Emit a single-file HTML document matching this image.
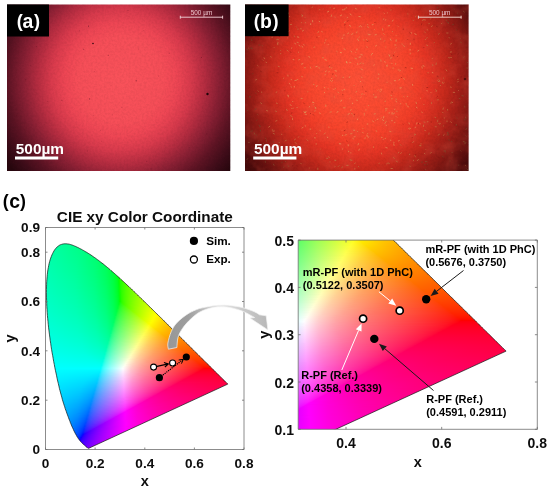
<!DOCTYPE html><html><head><meta charset="utf-8"><title>CIE xy Color Coordinate</title><style>html,body{margin:0;padding:0;background:#fff}#p{position:relative;width:550px;height:489px;overflow:hidden;background:#fff}.cf{position:absolute;overflow:hidden}.cf i{display:block;height:1px}#ov{position:absolute;left:0;top:0}#cr{position:absolute;left:0;top:0;width:550px;height:489px;clip-path:polygon(298.2px 240.1px,537.3px 240.1px,537.3px 429.3px,298.2px 429.3px)}</style></head><body><div id="p"><div class="cf" style="left:45px;top:242px;width:184px;height:208px;clip-path:polygon(43.7px 206.3px,43.4px 206.3px,43.1px 206.3px,42.8px 206.1px,42.6px 206px,42.4px 205.8px,42.2px 205.6px,42px 205.4px,41.7px 205.2px,41.5px 205px,41.3px 204.9px,41.1px 204.7px,40.9px 204.5px,40.6px 204.2px,40.5px 204.1px,40.3px 203.9px,40px 203.7px,39.8px 203.5px,39.6px 203.3px,39.3px 203.1px,39.1px 202.9px,38.8px 202.7px,38.5px 202.4px,38.2px 202.1px,37.9px 201.9px,37.6px 201.6px,37.3px 201.2px,36.9px 200.9px,36.7px 200.7px,36.6px 200.5px,36.4px 200.3px,36.2px 200.1px,36px 199.9px,35.8px 199.7px,35.6px 199.5px,35.4px 199.3px,35.2px 199px,35px 198.8px,34.8px 198.5px,34.5px 198.2px,34.3px 197.9px,34.1px 197.6px,33.8px 197.2px,33.5px 196.8px,33.3px 196.5px,33px 196px,32.7px 195.6px,32.4px 195.1px,32.1px 194.7px,31.8px 194.2px,31.5px 193.6px,31.2px 193.1px,30.9px 192.5px,30.5px 191.9px,30.2px 191.2px,29.8px 190.6px,29.5px 189.9px,29.1px 189.1px,28.7px 188.4px,28.4px 187.5px,28px 186.7px,27.6px 185.8px,27.2px 184.9px,26.7px 183.9px,26.3px 182.9px,25.9px 181.8px,25.4px 180.7px,25px 179.5px,24.5px 178.3px,24px 177px,23.5px 175.7px,23px 174.3px,22.5px 172.9px,21.9px 171.4px,21.4px 169.8px,20.8px 168.2px,20.2px 166.6px,19.7px 164.8px,19.1px 163.1px,18.5px 161.2px,17.9px 159.3px,17.3px 157.3px,16.8px 155.2px,16.2px 153.1px,15.6px 150.9px,15px 148.7px,14.4px 146.4px,13.9px 144px,13.3px 141.5px,12.7px 139px,12.1px 136.4px,11.6px 133.8px,11px 131px,10.4px 128.3px,9.8px 125.4px,9.3px 122.6px,8.7px 119.6px,8.2px 116.7px,7.7px 113.7px,7.1px 110.7px,6.6px 107.6px,6.1px 104.5px,5.7px 101.4px,5.2px 98.3px,4.8px 95.2px,4.4px 92.1px,4px 88.9px,3.6px 85.8px,3.3px 82.7px,3px 79.6px,2.7px 76.5px,2.4px 73.5px,2.2px 70.5px,2px 67.5px,1.8px 64.5px,1.7px 61.6px,1.6px 58.7px,1.5px 55.8px,1.4px 53px,1.4px 50.3px,1.4px 47.5px,1.5px 44.9px,1.6px 42.3px,1.7px 39.7px,1.9px 37.2px,2.1px 34.8px,2.3px 32.4px,2.6px 30.1px,2.9px 27.8px,3.3px 25.7px,3.7px 23.6px,4.1px 21.6px,4.6px 19.7px,5.1px 17.9px,5.7px 16.1px,6.3px 14.5px,6.9px 13px,7.6px 11.5px,8.3px 10.2px,9px 8.9px,9.7px 7.8px,10.5px 6.8px,11.3px 5.8px,12.1px 5px,13px 4.3px,13.8px 3.7px,14.7px 3.1px,15.6px 2.7px,16.5px 2.4px,17.5px 2.1px,18.4px 1.9px,19.4px 1.8px,20.3px 1.8px,21.3px 1.8px,22.3px 1.9px,23.3px 2px,24.3px 2.2px,25.3px 2.5px,26.3px 2.8px,27.3px 3.1px,28.3px 3.5px,29.3px 3.9px,30.3px 4.3px,31.4px 4.8px,32.4px 5.3px,33.4px 5.7px,34.4px 6.3px,35.4px 6.8px,36.4px 7.3px,37.4px 7.9px,38.4px 8.4px,39.4px 9px,40.3px 9.6px,41.3px 10.1px,42.3px 10.7px,43.2px 11.3px,44.2px 11.9px,45.1px 12.5px,46.1px 13.1px,47px 13.8px,47.9px 14.4px,48.8px 15px,49.8px 15.7px,50.7px 16.3px,51.6px 17px,52.5px 17.7px,53.4px 18.3px,54.3px 19px,55.2px 19.7px,56.1px 20.4px,57px 21.1px,58px 21.8px,58.9px 22.5px,59.8px 23.3px,60.7px 24px,61.6px 24.7px,62.5px 25.5px,63.4px 26.2px,64.3px 27px,65.2px 27.7px,66px 28.5px,66.9px 29.3px,67.8px 30px,68.7px 30.8px,69.6px 31.6px,70.5px 32.4px,71.4px 33.2px,72.3px 34px,73.2px 34.8px,74.1px 35.6px,75px 36.4px,75.8px 37.2px,76.7px 38px,77.6px 38.8px,78.5px 39.6px,79.4px 40.5px,80.3px 41.3px,81.2px 42.1px,82px 43px,82.9px 43.8px,83.8px 44.6px,84.7px 45.5px,85.6px 46.3px,86.5px 47.1px,87.4px 48px,88.3px 48.8px,89.2px 49.7px,90.1px 50.5px,90.9px 51.4px,91.8px 52.3px,92.7px 53.1px,93.6px 54px,94.5px 54.8px,95.4px 55.7px,96.3px 56.6px,97.2px 57.4px,98px 58.3px,98.9px 59.1px,99.8px 60px,100.7px 60.9px,101.6px 61.7px,102.5px 62.6px,103.3px 63.5px,104.2px 64.3px,105.1px 65.2px,106px 66.1px,106.9px 66.9px,107.7px 67.8px,108.6px 68.6px,109.5px 69.5px,110.4px 70.4px,111.2px 71.2px,112.1px 72.1px,113px 72.9px,113.9px 73.8px,114.7px 74.6px,115.6px 75.5px,116.4px 76.3px,117.3px 77.2px,118.2px 78px,119px 78.9px,119.9px 79.7px,120.7px 80.6px,121.5px 81.4px,122.4px 82.2px,123.2px 83.1px,124.1px 83.9px,124.9px 84.7px,125.7px 85.6px,126.6px 86.4px,127.4px 87.2px,128.2px 88px,129px 88.8px,129.8px 89.6px,130.7px 90.4px,131.5px 91.2px,132.3px 92px,133.1px 92.8px,133.9px 93.6px,134.6px 94.4px,135.4px 95.2px,136.2px 95.9px,137px 96.7px,137.8px 97.5px,138.5px 98.2px,139.3px 99px,140px 99.7px,140.8px 100.5px,141.5px 101.2px,142.3px 101.9px,143px 102.6px,143.7px 103.4px,144.4px 104.1px,145.2px 104.8px,145.9px 105.5px,146.6px 106.2px,147.2px 106.9px,147.9px 107.5px,148.6px 108.2px,149.3px 108.9px,149.9px 109.5px,150.6px 110.2px,151.2px 110.8px,151.8px 111.4px,152.4px 112px,153px 112.6px,153.6px 113.2px,154.2px 113.8px,154.8px 114.3px,155.4px 114.9px,155.9px 115.5px,156.5px 116px,157px 116.6px,157.6px 117.1px,158.1px 117.7px,158.7px 118.2px,159.2px 118.7px,159.7px 119.2px,160.2px 119.7px,160.7px 120.2px,161.2px 120.7px,161.7px 121.2px,162.2px 121.6px,162.6px 122.1px,163.1px 122.5px,163.5px 123px,164px 123.4px,164.4px 123.8px,164.8px 124.2px,165.2px 124.6px,165.6px 125px,166px 125.4px,166.4px 125.8px,166.8px 126.2px,167.1px 126.5px,167.5px 126.9px,167.8px 127.2px,168.2px 127.6px,168.5px 127.9px,168.9px 128.2px,169.2px 128.6px,169.5px 128.9px,169.8px 129.2px,170.1px 129.5px,170.4px 129.8px,170.7px 130.1px,171px 130.4px,171.2px 130.6px,171.5px 130.9px,171.8px 131.1px,172px 131.4px,172.3px 131.7px,172.5px 131.9px,172.8px 132.1px,173px 132.4px,173.2px 132.6px,173.5px 132.8px,173.7px 133px,173.9px 133.2px,174.1px 133.4px,174.3px 133.6px,174.5px 133.8px,174.7px 134px,174.9px 134.2px,175.1px 134.4px,175.3px 134.6px,175.4px 134.8px,175.6px 134.9px,176px 135.3px,176.3px 135.6px,176.6px 135.9px,176.9px 136.2px,177.2px 136.5px,177.5px 136.8px,177.8px 137.1px,178px 137.4px,178.3px 137.6px,178.5px 137.9px,178.8px 138.1px,179px 138.3px,179.2px 138.5px,179.4px 138.7px,179.6px 138.9px,179.8px 139.1px,180.1px 139.3px,180.3px 139.6px,180.5px 139.8px,180.7px 140px,180.9px 140.2px,181.1px 140.4px,181.3px 140.6px,181.5px 140.8px,181.7px 140.9px,181.9px 141.1px,182.1px 141.3px,182.3px 141.5px,182.5px 141.7px,182.7px 141.9px,182.8px 142.1px)"><i></i><i style="background:linear-gradient(90deg,#00ff9b 8.7%,#00ff92 13.6%)"></i><i style="background:linear-gradient(90deg,#00ff9d 7.6%,#00ff8f 15.2%)"></i><i style="background:linear-gradient(90deg,#00ff9f 6.5%,#00ff8c 16.8%)"></i><i style="background:linear-gradient(90deg,#00ffa0 6%,#00ff8a 17.9%)"></i><i style="background:linear-gradient(90deg,#00ffa2 5.4%,#00ff87 19%)"></i><i style="background:linear-gradient(90deg,#00ffa3 4.9%,#00ff85 20.1%)"></i><i style="background:linear-gradient(90deg,#00ffa4 4.3%,#00ff8a 18.5%,#00ff83 21.2%)"></i><i style="background:linear-gradient(90deg,#00ffa5 3.8%,#00ff89 19%,#00ff80 22.3%)"></i><i style="background:linear-gradient(90deg,#00ffa6 3.8%,#00ff8b 18.5%,#00ff7d 23.4%)"></i><i style="background:linear-gradient(90deg,#00ffa7 3.3%,#00ff89 19.6%,#00ff7c 23.9%)"></i><i style="background:linear-gradient(90deg,#00ffa7 3.3%,#00ff8e 17.4%,#00ff79 25%)"></i><i style="background:linear-gradient(90deg,#00ffa9 2.7%,#00ff8a 19.6%,#00ff78 25.5%)"></i><i style="background:linear-gradient(90deg,#00ffa9 2.7%,#00ff8d 18.5%,#00ff74 26.6%)"></i><i style="background:linear-gradient(90deg,#0fa 2.7%,#00ff8b 19.6%,#00ff73 27.2%)"></i><i style="background:linear-gradient(90deg,#00ffab 2.2%,#00ff8e 18.5%,#00ff6f 28.3%)"></i><i style="background:linear-gradient(90deg,#00ffab 2.2%,#00ff90 17.9%,#00ff71 27.7%,#00ff6d 28.8%)"></i><i style="background:linear-gradient(90deg,#00ffac 2.2%,#00ff8e 19%,#00ff6d 28.8%,#00ff6b 29.3%)"></i><i style="background:linear-gradient(90deg,#00ffad 1.6%,#00ff91 17.9%,#00ff73 27.7%,#0f6 30.4%)"></i><i style="background:linear-gradient(90deg,#00ffad 1.6%,#00ff93 17.4%,#00ff75 27.2%,#00ff64 31%)"></i><i style="background:linear-gradient(90deg,#00ffae 1.6%,#00ff92 17.9%,#00ff74 27.7%,#00ff62 31.5%)"></i><i style="background:linear-gradient(90deg,#00ffae 1.6%,#00ff94 17.4%,#00ff76 27.2%,#00ff5c 32.6%)"></i><i style="background:linear-gradient(90deg,#00ffaf 1.1%,#00ff97 16.3%,#0f7 27.2%,#00ff59 33.2%)"></i><i style="background:linear-gradient(90deg,#00ffb0 1.1%,#00ff95 17.4%,#00ff78 27.2%,#00ff5a 33.2%,#00ff56 33.7%)"></i><i style="background:linear-gradient(90deg,#00ffb0 1.1%,#00ff98 16.3%,#00ff7a 26.6%,#00ff5b 33.2%,#00ff53 34.2%)"></i><i style="background:linear-gradient(90deg,#00ffb1 1.1%,#00ff95 17.9%,#0f7 27.7%,#00ff54 34.2%,#00ff4b 35.3%)"></i><i style="background:linear-gradient(90deg,#00ffb1 1.1%,#00ff98 16.8%,#00ff7b 26.6%,#00ff5c 33.2%,#00ff47 35.9%)"></i><i style="background:linear-gradient(90deg,#00ffb3 .5%,#00ff96 17.9%,#00ff76 28.3%,#0f5 34.2%,#00ff43 36.4%)"></i><i style="background:linear-gradient(90deg,#00ffb3 .5%,#00ff98 17.4%,#00ff7b 27.2%,#00ff5d 33.2%,#00ff3e 37%)"></i><i style="background:linear-gradient(90deg,#00ffb4 .5%,#0f9 16.8%,#00ff7f 26.1%,#00ff5e 33.2%,#00ff3f 37%,#00ff38 37.5%)"></i><i style="background:linear-gradient(90deg,#00ffb4 .5%,#00ff9a 16.8%,#00ff7c 27.2%,#00ff5b 33.7%,#00ff39 37.5%,#00ff32 38%)"></i><i style="background:linear-gradient(90deg,#00ffb5 .5%,#00ff9b 16.8%,#00ff7e 26.6%,#00ff5f 33.2%,#00ff3a 37.5%,#00ff21 39.1%)"></i><i style="background:linear-gradient(90deg,#00ffb5 .5%,#00ff9d 15.8%,#00ff7f 26.6%,#00ff63 32.6%,#00ff46 36.4%,#00ff2b 38.6%,#00ff14 39.7%)"></i><i style="background:linear-gradient(90deg,#00ffb6 .5%,#00ff9b 17.4%,#00ff7c 27.7%,#00ff59 34.2%,#00ff3b 37.5%,#0f2 39.1%,#00ff15 39.7%,#0dff00 40.2%)"></i><i style="background:linear-gradient(90deg,#00ffb6 .5%,#00ff9f 15.8%,#00ff82 26.1%,#00ff64 32.6%,#00ff42 37%,#00ff23 39.1%,#00ff16 39.7%,#0cff00 40.2%,#1dff00 40.8%)"></i><i style="background:linear-gradient(90deg,#00ffb7 0%,#00ffa0 15.2%,#00ff85 25.5%,#00ff65 32.6%,#00ff48 36.4%,#00ff2d 38.6%,#00ff17 39.7%,#0bff00 40.2%,#1dff00 40.8%,#29ff00 41.3%)"></i><i style="background:linear-gradient(90deg,#00ffb8 0%,#00ff9e 16.8%,#00ff80 27.2%,#00ff62 33.2%,#00ff43 37%,#00ff25 39.1%,#00ff18 39.7%,#09ff00 40.2%,#1dff00 40.8%,#32ff00 41.8%)"></i><i style="background:linear-gradient(90deg,#00ffb8 0%,#00ffa2 15.2%,#00ff84 26.1%,#00ff69 32.1%,#00ff49 36.4%,#00ff2f 38.6%,#00ff19 39.7%,#07ff00 40.2%,#1cff00 40.8%,#3aff00 42.4%)"></i><i style="background:linear-gradient(90deg,#00ffb9 0%,#00ff9e 17.4%,#00ff7d 28.3%,#00ff5c 34.2%,#00ff3e 37.5%,#00ff26 39.1%,#00ff1a 39.7%,#05ff00 40.2%,#1cff00 40.8%,#3aff00 42.4%,#42ff00 42.9%)"></i><i style="background:linear-gradient(90deg,#00ffba 0%,#00ffa1 16.3%,#00ff82 27.2%,#00ff64 33.2%,#00ff45 37%,#00ff27 39.1%,#00ff1b 39.7%,#02ff00 40.2%,#1bff00 40.8%,#32ff00 41.8%,#49ff00 43.5%)"></i><i style="background:linear-gradient(90deg,#00ffba 0%,#00ffa1 16.3%,#00ff86 26.1%,#00ff68 32.6%,#00ff46 37%,#00ff28 39.1%,#00ff1b 39.7%,#00ff05 40.2%,#1bff00 40.8%,#3aff00 42.4%,#50ff00 44%)"></i><i style="background:linear-gradient(90deg,#0fb 0%,#00ffa0 17.4%,#00ff7f 28.3%,#00ff5e 34.2%,#00ff40 37.5%,#00ff28 39.1%,#00ff1c 39.7%,#00ff07 40.2%,#1aff00 40.8%,#3aff00 42.4%,#5cff00 45.1%)"></i><i style="background:linear-gradient(90deg,#0fb 0%,#00ffa3 16.3%,#00ff82 27.7%,#00ff5f 34.2%,#00ff41 37.5%,#00ff29 39.1%,#00ff1d 39.7%,#00ff09 40.2%,#19ff00 40.8%,#31ff00 41.8%,#56ff00 44.6%,#62ff00 45.7%)"></i><i style="background:linear-gradient(90deg,#00ffbc 0%,#00ffa1 17.4%,#00ff84 27.2%,#00ff67 33.2%,#00ff42 37.5%,#00ff2a 39.1%,#00ff1e 39.7%,#00ff0b 40.2%,#19ff00 40.8%,#31ff00 41.8%,#57ff00 44.6%,#68ff00 46.2%)"></i><i style="background:linear-gradient(90deg,#00ffbc 0%,#00ffa4 16.3%,#00ff87 26.6%,#00ff68 33.2%,#00ff48 37%,#00ff2b 39.1%,#00ff1f 39.7%,#00ff0c 40.2%,#18ff00 40.8%,#31ff00 41.8%,#57ff00 44.6%,#6eff00 46.7%)"></i><i style="background:linear-gradient(90deg,#00ffbd 0%,#00ffa4 16.3%,#00ff8a 26.1%,#00ff6c 32.6%,#00ff49 37%,#00ff2b 39.1%,#00ff20 39.7%,#00ff0e 40.2%,#17ff00 40.8%,#31ff00 41.8%,#57ff00 44.6%,#73ff00 47.3%)"></i><i style="background:linear-gradient(90deg,#00ffbd 0%,#00ffa7 15.2%,#00ff8d 25.5%,#00ff70 32.1%,#00ff54 35.9%,#00ff3d 38%,#00ff21 39.7%,#00ff0f 40.2%,#17ff00 40.8%,#31ff00 41.8%,#58ff00 44.6%,#79ff00 47.8%)"></i><i style="background:linear-gradient(90deg,#00ffbe 0%,#00ffa4 17.4%,#00ff87 27.2%,#00ff6a 33.2%,#00ff45 37.5%,#00ff2d 39.1%,#00ff10 40.2%,#16ff00 40.8%,#31ff00 41.8%,#58ff00 44.6%,#7eff00 48.4%)"></i><i style="background:linear-gradient(90deg,#00ffbf 0%,#00ffa7 16.3%,#00ff8a 26.6%,#00ff6b 33.2%,#00ff4b 37%,#00ff2e 39.1%,#00ff12 40.2%,#15ff00 40.8%,#31ff00 41.8%,#58ff00 44.6%,#84ff00 48.9%)"></i><i style="background:linear-gradient(90deg,#00ffbf 0%,#00ffa8 15.8%,#00ff8d 26.1%,#00ff6f 32.6%,#00ff4c 37%,#00ff2e 39.1%,#00ff13 40.2%,#14ff00 40.8%,#25ff00 41.3%,#4bff00 43.5%,#7bff00 47.8%,#89ff00 49.5%)"></i><i style="background:linear-gradient(90deg,#00ffc0 0%,#00ffa6 17.4%,#0f8 27.7%,#00ff65 34.2%,#00ff47 37.5%,#00ff24 39.7%,#00ff14 40.2%,#13ff00 40.8%,#30ff00 41.8%,#52ff00 44%,#80ff00 48.4%,#8fff00 50%)"></i><i style="background:linear-gradient(90deg,#00ffc0 0%,#00ffa8 16.8%,#00ff8c 26.6%,#00ff6d 33.2%,#00ff48 37.5%,#00ff25 39.7%,#00ff15 40.2%,#13ff00 40.8%,#30ff00 41.8%,#52ff00 44%,#81ff00 48.4%,#94ff00 50.5%)"></i><i style="background:linear-gradient(90deg,#00ffc1 0%,#0fa 15.8%,#00ff91 25.5%,#00ff74 32.1%,#00ff54 36.4%,#00ff3a 38.6%,#00ff26 39.7%,#00ff16 40.2%,#12ff00 40.8%,#30ff00 41.8%,#5aff00 44.6%,#8cff00 49.5%,#9f0 51.1%)"></i><i style="background:linear-gradient(90deg,#00ffc2 0%,#00ffa8 17.4%,#00ff8a 27.7%,#00ff6b 33.7%,#00ff4f 37%,#00ff32 39.1%,#00ff17 40.2%,#10ff00 40.8%,#23ff00 41.3%,#43ff00 42.9%,#6dff00 46.2%,#9fff00 51.6%)"></i><i style="background:linear-gradient(90deg,#00ffc2 0%,#00ffa9 17.4%,#00ff8b 27.7%,#00ff6c 33.7%,#00ff4a 37.5%,#00ff27 39.7%,#00ff18 40.2%,#0fff00 40.8%,#23ff00 41.3%,#43ff00 42.9%,#6dff00 46.2%,#a4ff00 52.2%)"></i><i style="background:linear-gradient(90deg,#00ffc3 0%,#00ffac 16.3%,#00ff8c 27.7%,#00ff69 34.2%,#00ff4b 37.5%,#00ff28 39.7%,#00ff19 40.2%,#0eff00 40.8%,#2f0 41.3%,#43ff00 42.9%,#68ff00 45.7%,#a1ff00 51.6%,#a9ff00 52.7%)"></i><i style="background:linear-gradient(90deg,#00ffc3 0%,#00ffad 15.8%,#00ff94 25.5%,#00ff78 32.1%,#00ff57 36.4%,#00ff3d 38.6%,#00ff29 39.7%,#00ff1b 40.2%,#0dff00 40.8%,#2f0 41.3%,#4f0 42.9%,#75ff00 46.7%,#afff00 53.3%)"></i><i style="background:linear-gradient(90deg,#00ffc4 0%,#00ffab 17.4%,#00ff91 26.6%,#00ff72 33.2%,#00ff53 37%,#00ff35 39.1%,#00ff1c 40.2%,#0bff00 40.8%,#21ff00 41.3%,#4f0 42.9%,#6fff00 46.2%,#a3ff00 51.6%,#b4ff00 53.8%)"></i><i style="background:linear-gradient(90deg,#00ffc5 0%,#00ffac 17.4%,#00ff90 27.2%,#00ff73 33.2%,#00ff53 37%,#00ff36 39.1%,#00ff1d 40.2%,#09ff00 40.8%,#21ff00 41.3%,#4f0 42.9%,#70ff00 46.2%,#a4ff00 51.6%,#baff00 54.3%)"></i><i style="background:linear-gradient(90deg,#00ffc5 0%,#00ffaf 16.3%,#00ff91 27.2%,#00ff74 33.2%,#00ff54 37%,#00ff37 39.1%,#00ff1e 40.2%,#07ff00 40.8%,#20ff00 41.3%,#3aff00 42.4%,#5cff00 44.6%,#8dff00 48.9%,#bfff00 54.9%)"></i><i style="background:linear-gradient(90deg,#00ffc6 0%,#00ffae 16.8%,#00ff94 26.6%,#00ff75 33.2%,#0f5 37%,#00ff38 39.1%,#00ff1f 40.2%,#0fff0f 40.8%,#2eff00 41.8%,#5f0 44%,#83ff00 47.8%,#bcff00 54.3%,#c4ff00 55.4%)"></i><i style="background:linear-gradient(90deg,#00ffc7 0%,#00ffae 17.4%,#00ff91 27.7%,#00ff72 33.7%,#00ff56 37%,#00ff39 39.1%,#00ff20 40.2%,#15ff16 40.8%,#2fff09 41.8%,#3aff00 42.4%,#5dff00 44.6%,#8fff00 48.9%,#caff00 56%)"></i><i style="background:linear-gradient(90deg,#00ffc7 0%,#00ffaf 17.4%,#00ff92 27.7%,#00ff73 33.7%,#00ff51 37.5%,#00ff2f 39.7%,#00ff21 40.2%,#1aff1c 40.8%,#32ff12 41.8%,#4f0 42.9%,#73ff00 46.2%,#a9ff00 51.6%,#d0ff00 56.5%)"></i><i style="background:linear-gradient(90deg,#00ffc8 0%,#00ffb1 16.8%,#00ff95 27.2%,#00ff74 33.7%,#00ff52 37.5%,#00ff30 39.7%,#0bff24 40.2%,#1fff21 40.8%,#46ff0e 42.9%,#4eff01 43.5%,#7aff00 46.7%,#b8ff00 53.3%,#d5ff00 57.1%)"></i><i style="background:linear-gradient(90deg,#00ffc8 0%,#00ffb4 15.2%,#00ff9d 25%,#00ff7f 32.1%,#00ff64 35.9%,#0f4 38.6%,#00ff31 39.7%,#12ff28 40.2%,#23ff25 40.8%,#49ff16 42.9%,#5fff00 44.6%,#92ff00 48.9%,#d3ff00 56.5%,#dbff00 57.6%)"></i><i style="background:linear-gradient(90deg,#00ffc9 0%,#00ffb3 16.3%,#00ff9a 26.1%,#00ff7d 32.6%,#00ff5a 37%,#00ff3c 39.1%,#00ff32 39.7%,#18ff2d 40.2%,#3bff23 41.8%,#59ff12 44%,#67ff00 45.1%,#a3ff00 50.5%,#e1ff00 58.2%)"></i><i style="background:linear-gradient(90deg,#00ffca 0%,#00ffb2 17.4%,#00ff97 27.2%,#00ff7e 32.6%,#00ff5b 37%,#00ff3d 39.1%,#03ff33 39.7%,#1dff30 40.2%,#3eff28 41.8%,#62ff13 44.6%,#6fff00 45.7%,#a9ff00 51.1%,#e7ff00 58.7%)"></i><i style="background:linear-gradient(90deg,#00ffca 0%,#00ffb5 16.3%,#00ff9c 26.1%,#00ff7f 32.6%,#00ff5c 37%,#00ff3e 39.1%,#0eff36 39.7%,#21ff34 40.2%,#49ff29 42.4%,#71ff0f 45.7%,#76ff03 46.2%,#9bff00 49.5%,#dcff00 57.1%,#ecff00 59.2%)"></i><i style="background:linear-gradient(90deg,#00ffcb .5%,#00ffb3 17.9%,#0f9 27.2%,#00ff7c 33.2%,#00ff5d 37%,#00ff3f 39.1%,#25ff37 40.2%,#4bff2d 42.4%,#73ff17 45.7%,#84ff00 47.3%,#bf0 52.7%,#f2ff00 59.8%)"></i><i style="background:linear-gradient(90deg,#00ffcb .5%,#00ffb5 17.4%,#00ff98 27.7%,#00ff7a 33.7%,#00ff58 37.5%,#00ff40 39.1%,#1aff3d 39.7%,#34ff39 40.8%,#5cff2b 43.5%,#80ff13 46.7%,#8bff00 47.8%,#c1ff00 53.3%,#fcff00 60.9%)"></i><i style="background:linear-gradient(90deg,#0fc .5%,#00ffb6 16.8%,#00ff9d 26.6%,#00ff82 32.6%,#00ff5f 37%,#00ff4a 38.6%,#09ff42 39.1%,#1fff40 39.7%,#40ff3a 41.3%,#71ff26 45.1%,#88ff14 47.3%,#8dff0d 47.8%,#93ff00 48.4%,#d1ff00 54.9%,#ff0 60.9%,#fffb00 61.4%)"></i><i style="background:linear-gradient(90deg,#00ffcd .5%,#00ffb5 17.9%,#00ff9a 27.7%,#00ff7f 33.2%,#0f6 36.4%,#00ff4b 38.6%,#23ff43 39.7%,#43ff3d 41.3%,#6dff2e 44.6%,#8fff16 47.8%,#a0ff00 49.5%,#e0ff00 56.5%,#fffd00 60.9%,#fff600 62%)"></i><i style="background:linear-gradient(90deg,#00ffcd .5%,#00ffb9 16.3%,#00ffa1 26.1%,#00ff84 32.6%,#00ff67 36.4%,#00ff4c 38.6%,#18ff48 39.1%,#33ff45 40.2%,#63ff37 43.5%,#92ff1d 47.8%,#a1ff09 49.5%,#a7ff00 50%,#ebff00 57.6%,#fffe00 60.3%,#fff000 62.5%)"></i><i style="background:linear-gradient(90deg,#00ffce .5%,#00ffb8 17.4%,#00ffa0 26.6%,#00ff82 33.2%,#00ff62 37%,#00ff4d 38.6%,#1dff4b 39.1%,#36ff48 40.2%,#65ff3b 43.5%,#99ff1f 48.4%,#a9ff0c 50%,#aeff00 50.5%,#edff00 57.6%,#feff00 59.8%,#ffea00 63%)"></i><i style="background:linear-gradient(90deg,#00ffcf .5%,#00ffb8 17.9%,#00ff9d 27.7%,#00ff83 33.2%,#00ff63 37%,#00ff56 38%,#21ff4e 39.1%,#42ff49 40.8%,#6eff3c 44%,#9bff24 48.4%,#b0ff0f 50.5%,#b5ff00 51.1%,#f8ff00 58.7%,#fffe00 59.8%,#ffe500 63.6%)"></i><i style="background:linear-gradient(90deg,#00ffd0 .5%,#00ffb9 17.9%,#00ff9e 27.7%,#00ff84 33.2%,#00ff65 37%,#00ff57 38%,#25ff51 39.1%,#45ff4c 40.8%,#76ff3d 44.6%,#a8ff22 49.5%,#b7ff11 51.1%,#c2ff00 52.2%,#ff0 59.2%,#ffdf00 64.1%)"></i><i style="background:linear-gradient(90deg,#00ffd0 .5%,#00ffbc 16.8%,#00ffa2 27.2%,#00ff82 33.7%,#00ff5f 37.5%,#00ff59 38%,#1aff56 38.6%,#35ff53 39.7%,#5fff49 42.4%,#9bff31 47.8%,#baff19 51.1%,#c9ff00 52.7%,#fdff00 58.7%,#ffda00 64.7%)"></i><i style="background:linear-gradient(90deg,#00ffd1 .5%,#0fb 17.9%,#00ff9f 28.3%,#00ff83 33.7%,#00ff61 37.5%,#08ff5a 38%,#1fff59 38.6%,#42ff54 40.2%,#75ff47 44%,#b2ff29 50%,#c6ff15 52.2%,#d0ff00 53.3%,#fffe00 58.7%,#ffd500 65.2%)"></i><i style="background:linear-gradient(90deg,#00ffd2 .5%,#00ffbc 17.9%,#00ffa2 27.7%,#00ff84 33.7%,#00ff68 37%,#00ff62 37.5%,#24ff5c 38.6%,#4dff55 40.8%,#7dff48 44.6%,#baff2a 50.5%,#ceff17 52.7%,#d3ff10 53.3%,#d7ff01 53.8%,#feff00 58.2%,#ffd500 64.7%,#ffd000 65.8%)"></i><i style="background:linear-gradient(90deg,#00ffd2 .5%,#00ffbe 17.4%,#00ffa5 27.2%,#00ff89 33.2%,#00ff69 37%,#00ff63 37.5%,#18ff60 38%,#34ff5d 39.1%,#5fff55 41.8%,#97ff43 46.7%,#cbff23 52.2%,#daff12 53.8%,#e4ff00 54.9%,#fffd00 58.2%,#ffd900 63.6%,#ffcb00 66.3%)"></i><i style="background:linear-gradient(90deg,#00ffd3 1.1%,#00ffbd 18.5%,#00ffa2 28.3%,#00ff83 34.2%,#00ff64 37.5%,#1dff63 38%,#37ff60 39.1%,#69ff56 42.4%,#afff3c 48.9%,#d8ff20 53.3%,#e7ff0c 54.9%,#ecff00 55.4%,#ff0 57.6%,#ffd900 63%,#ffc700 66.8%)"></i><i style="background:linear-gradient(90deg,#00ffd4 1.1%,#00ffbd 19%,#00ffa3 28.3%,#0f8 33.7%,#00ff6c 37%,#0dff67 37.5%,#22ff65 38%,#4dff60 40.2%,#85ff52 44.6%,#cbff32 51.6%,#e9ff17 54.9%,#eeff0f 55.4%,#f3ff00 56%,#fffc00 57.6%,#ffd700 63%,#ffc200 67.4%)"></i><i style="background:linear-gradient(90deg,#00ffd4 1.1%,#00ffc0 17.9%,#00ffa5 28.3%,#00ff89 33.7%,#00ff6d 37%,#26ff68 38%,#47ff64 39.7%,#7bff59 43.5%,#ceff37 51.6%,#f1ff19 55.4%,#fbff04 56.5%,#fff900 57.6%,#ffd100 63.6%,#ffbe00 67.9%)"></i><i style="background:linear-gradient(90deg,#00ffd5 1.1%,#00ffc0 18.5%,#00ffa6 28.3%,#00ff87 34.2%,#00ff6f 37%,#1aff6c 37.5%,#36ff6a 38.6%,#62ff62 41.3%,#acff4d 47.8%,#e5ff2e 53.8%,#feff14 56.5%,#fff600 57.6%,#ffd200 63%,#ffb900 68.5%)"></i><i style="background:linear-gradient(90deg,#00ffd6 1.1%,#00ffc1 18.5%,#00ffa9 27.7%,#00ff8c 33.7%,#00ff76 36.4%,#06ff70 37%,#20ff6f 37.5%,#44ff6b 39.1%,#79ff61 42.9%,#c9ff45 50.5%,#f7ff27 55.4%,#fffd1d 56.5%,#ffef00 58.2%,#ffc900 64.1%,#ffb500 69%)"></i><i style="background:linear-gradient(90deg,#00ffd7 1.1%,#00ffc1 19%,#00ffa6 28.8%,#00ff8d 33.7%,#0f7 36.4%,#24ff72 37.5%,#47ff6e 39.1%,#7cff64 42.9%,#d1ff46 51.1%,#ffff29 56%,#ffec0f 58.2%,#ffe800 58.7%,#ffc400 64.7%,#ffb100 69.6%)"></i><i style="background:linear-gradient(90deg,#00ffd7 1.1%,#00ffc5 17.4%,#00ffaf 26.6%,#0f9 32.1%,#00ff79 36.4%,#18ff76 37%,#35ff73 38%,#5bff6e 40.2%,#9dff5f 45.7%,#eeff3d 53.8%,#fffc2e 56%,#ffe511 58.7%,#ffe105 59.2%,#ffd900 60.3%,#ffb400 67.9%,#ffac00 70.1%)"></i><i style="background:linear-gradient(90deg,#00ffd8 1.1%,#00ffc5 17.9%,#00ffad 27.7%,#00ff94 33.2%,#00ff7a 36.4%,#1dff79 37%,#39ff76 38%,#65ff70 40.8%,#a5ff60 46.2%,#ecff44 53.3%,#fffe38 55.4%,#ffde13 59.2%,#ffd700 60.3%,#ffb600 66.8%,#ffa800 70.7%)"></i><i style="background:linear-gradient(90deg,#00ffd9 1.1%,#00ffc6 17.9%,#00ffb0 27.2%,#00ff92 33.7%,#00ff81 35.9%,#0cff7c 36.4%,#22ff7b 37%,#46ff78 38.6%,#76ff70 41.8%,#c4ff5b 48.9%,#feff40 54.9%,#ffdb1b 59.2%,#ffd40c 60.3%,#ffd000 60.9%,#ffad00 68.5%,#ffa400 71.2%)"></i><i style="background:linear-gradient(90deg,#00ffd9 1.6%,#00ffc8 17.4%,#00ffb0 27.7%,#00ff93 33.7%,#00ff82 35.9%,#27ff7e 37%,#52ff79 39.1%,#8cff6f 43.5%,#e7ff52 52.2%,#fffc44 54.9%,#ffd116 60.3%,#ffce0e 60.9%,#ffca00 61.4%,#ffa900 69%,#ffa000 71.7%)"></i><i style="background:linear-gradient(90deg,#00ffda 1.6%,#00ffc9 17.4%,#00ffb3 27.2%,#00ff95 33.7%,#00ff84 35.9%,#1bff82 36.4%,#38ff80 37.5%,#65ff7a 40.2%,#a1ff6e 45.1%,#fffe4c 54.3%,#ffd221 59.8%,#ffc810 61.4%,#ffc100 62.5%,#ff9f00 71.2%,#ff9c00 72.3%)"></i><i style="background:linear-gradient(90deg,#00ffdb 1.6%,#00ffc8 19%,#00ffaf 28.8%,#00ff93 34.2%,#01ff86 35.9%,#20ff85 36.4%,#46ff82 38%,#7eff79 41.8%,#d2ff64 49.5%,#fdff53 53.8%,#fc2 60.3%,#ffc212 62%,#ffbc00 63%,#ff9800 72.8%)"></i><i style="background:linear-gradient(90deg,#00ffdc 1.6%,#00ffc9 19%,#00ffb2 28.3%,#00ff98 33.7%,#00ff8c 35.3%,#25ff88 36.4%,#49ff84 38%,#79ff7d 41.3%,#c4ff6c 47.8%,#fffd56 53.8%,#ffd12f 59.2%,#ffbc13 62.5%,#ffb600 63.6%,#ff9600 72.8%,#ff9500 73.4%)"></i><i style="background:linear-gradient(90deg,#0fd 1.6%,#00ffca 19%,#00ffb2 28.8%,#00ff96 34.2%,#00ff8e 35.3%,#29ff8a 36.4%,#4cff87 38%,#7cff81 41.3%,#d8ff6b 49.5%,#ffff5d 53.3%,#ffd237 58.7%,#ffb714 63%,#ffb40e 63.6%,#ffb101 64.1%,#ff9200 73.4%,#ff9100 73.9%)"></i><i style="background:linear-gradient(90deg,#00ffde 1.6%,#00ffcb 19%,#00ffb5 28.3%,#00ff9c 33.7%,#00ff90 35.3%,#1eff8e 35.9%,#3aff8c 37%,#69ff87 39.7%,#b2ff79 45.7%,#fcff64 52.7%,#ffe44d 56%,#ffbe28 61.4%,#ffaf10 64.1%,#fa0 65.2%,#ff8d00 74.5%)"></i><i style="background:linear-gradient(90deg,#00ffdf 1.6%,#00ffcb 20.1%,#00ffb3 29.3%,#00ff96 34.8%,#0aff92 35.3%,#23ff91 35.9%,#49ff8e 37.5%,#7aff88 40.8%,#c7ff78 47.3%,#fffe67 52.7%,#ffcc3e 58.7%,#ffac17 64.1%,#ffa500 65.8%,#ff8900 75%)"></i><i style="background:linear-gradient(90deg,#00ffdf 1.6%,#00ffd0 17.4%,#00ffbc 27.2%,#00ffa6 32.6%,#00ff98 34.8%,#28ff94 35.9%,#4cff91 37.5%,#84ff8a 41.3%,#d0ff7a 47.8%,#feff6d 52.2%,#ffcd44 58.2%,#ffa718 64.7%,#ffa20c 65.8%,#ffa000 66.3%,#ff8600 75.5%)"></i><i style="background:linear-gradient(90deg,#00ffe0 2.2%,#00ffcf 19%,#00ffb8 28.8%,#00ff9d 34.2%,#00ff9a 34.8%,#1bff98 35.3%,#3aff96 36.4%,#69ff91 39.1%,#a8ff87 44%,#fbff73 51.6%,#fff76c 52.7%,#ffc744 58.7%,#ffa219 65.2%,#ff9d0d 66.3%,#ff9b03 66.8%,#ff9100 70.1%,#ff8200 76.1%)"></i><i style="background:linear-gradient(90deg,#00ffe1 2.2%,#00ffd0 19%,#00ffbd 27.7%,#00ffa6 33.2%,#00ff9c 34.8%,#20ff9b 35.3%,#3dff99 36.4%,#6cff94 39.1%,#abff8b 44%,#ff7 51.6%,#ffd454 56.5%,#ffa829 63.6%,#ff990f 66.8%,#ff9400 67.9%,#ff7e00 76.6%)"></i><i style="background:linear-gradient(90deg,#00ffe2 2.2%,#00ffd0 20.1%,#0fb 28.8%,#00ffa5 33.7%,#00ffa1 34.2%,#0fff9e 34.8%,#26ff9e 35.3%,#4cff9b 37%,#86ff94 40.8%,#ebff81 49.5%,#fffc79 51.6%,#ffd157 56.5%,#ffa62d 63.6%,#ff9410 67.4%,#ff9000 68.5%,#ff7b00 77.2%)"></i><i style="background:linear-gradient(90deg,#00ffe3 2.2%,#00ffd2 19.6%,#00ffbd 28.8%,#00ffa7 33.7%,#00ffa3 34.2%,#2bffa1 35.3%,#59ff9d 37.5%,#97ff96 41.8%,#fffe80 51.1%,#ffd25d 56%,#ffa633 63%,#ff9012 67.9%,#ff8b00 69%,#f70 77.7%)"></i><i style="background:linear-gradient(90deg,#00ffe4 2.2%,#00ffd2 20.7%,#00ffbd 29.3%,#00ffa6 34.2%,#1effa4 34.8%,#3cffa3 35.9%,#65ff9f 38%,#aeff96 43.5%,#feff86 50.5%,#ffcf5f 56%,#ffa133 63.6%,#ff8b13 68.5%,#ff8500 70.1%,#ff7400 78.3%)"></i><i style="background:linear-gradient(90deg,#00ffe5 2.2%,#00ffd4 20.1%,#00ffbf 29.3%,#00ffab 33.7%,#08ffa8 34.2%,#24ffa7 34.8%,#4bffa5 36.4%,#80ffa0 39.7%,#ddff91 47.3%,#fffd88 50.5%,#ffd065 55.4%,#ffa43c 62.5%,#ff8714 69%,#ff8100 70.7%,#ff7000 78.8%)"></i><i style="background:linear-gradient(90deg,#00ffe6 2.2%,#00ffd4 21.2%,#00ffbf 29.9%,#00ffad 33.7%,#29ffaa 34.8%,#4fffa8 36.4%,#83ffa3 39.7%,#e0ff95 47.3%,#ffff8f 50%,#ffcd67 55.4%,#ff9f3c 63%,#ff8315 69.6%,#ff7f0a 70.7%,#ff7d00 71.2%,#ff6d00 79.3%)"></i><i style="background:linear-gradient(90deg,#00ffe6 2.7%,#00ffd7 20.1%,#00ffc3 29.3%,#00ffb0 33.7%,#1bffae 34.2%,#3cffad 35.3%,#6effa9 38%,#b7ffa0 43.5%,#fdff94 49.5%,#ffc666 56%,#ff9a3c 63.6%,#ff7e16 70.1%,#ff7a0b 71.2%,#ff7800 71.7%,#ff6900 79.9%)"></i><i style="background:linear-gradient(90deg,#00ffe7 2.7%,#00ffd9 19.6%,#00ffc5 29.3%,#00ffb2 33.7%,#21ffb1 34.2%,#3fffb0 35.3%,#68ffad 37.5%,#adffa6 42.4%,#fffe97 49.5%,#ffd476 53.8%,#ffa94f 60.3%,#ff7c1a 70.1%,#ff760d 71.7%,#ff7300 72.8%,#f60 80.4%)"></i><i style="background:linear-gradient(90deg,#00ffe8 2.7%,#00ffda 20.1%,#00ffc7 29.3%,#00ffb7 33.2%,#0effb5 33.7%,#27ffb4 34.2%,#4fffb2 35.9%,#8cffad 39.7%,#ebffa1 47.3%,#feff9d 48.9%,#ffcd74 54.3%,#ffa34e 60.9%,#ff781b 70.7%,#ff7008 72.8%,#ff6f00 73.4%,#ff6200 81%)"></i><i style="background:linear-gradient(90deg,#00ffe9 2.7%,#00ffdc 19.6%,#00ffcb 28.8%,#00ffba 33.2%,#2cffb8 34.2%,#52ffb6 35.9%,#87ffb1 39.1%,#e2ffa7 46.2%,#fffca0 48.9%,#ffd27d 53.3%,#ffa756 59.8%,#ff7a25 69.6%,#ff6e0f 72.8%,#ff6b00 73.9%,#ff5f00 81.5%)"></i><i style="background:linear-gradient(90deg,#00ffea 2.7%,#0fd 20.1%,#00ffcb 29.3%,#00ffbc 33.2%,#1effbb 33.7%,#3fffba 34.8%,#69ffb8 37%,#a8ffb2 41.3%,#ffffa6 48.4%,#ffd383 52.7%,#ffa75b 59.2%,#ff7a2b 69%,#ff6a11 73.4%,#ff6701 74.5%,#ff5b00 82.1%)"></i><i style="background:linear-gradient(90deg,#00ffeb 2.7%,#00ffde 20.7%,#00ffca 30.4%,#00ffc2 32.6%,#05ffbf 33.2%,#24ffbf 33.7%,#43ffbd 34.8%,#7effba 38%,#dcffb0 45.1%,#fdffac 47.8%,#ffc87d 53.8%,#ff9e58 60.3%,#ff7023 71.2%,#ff650d 74.5%,#ff6200 75.5%,#ff5800 82.6%)"></i><i style="background:linear-gradient(90deg,#00ffec 3.3%,#00ffdf 21.2%,#00ffcb 31%,#00ffc4 32.6%,#2affc2 33.7%,#47ffc1 34.8%,#78ffbe 37.5%,#bdffb8 42.4%,#fffdaf 47.8%,#ffd28a 52.2%,#ffa865 58.2%,#ff7c38 67.4%,#ff6213 74.5%,#ff5d00 76.1%,#ff5400 83.2%)"></i><i style="background:linear-gradient(90deg,#00ffed 3.3%,#00ffe0 21.7%,#00ffcd 31%,#00ffc7 32.6%,#1bffc6 33.2%,#3effc5 34.2%,#6affc3 36.4%,#b2ffbd 41.3%,#feffb5 47.3%,#ffce8b 52.2%,#ff9f61 59.2%,#ff7131 69.6%,#ff5e13 75%,#ff5b0a 76.1%,#ff5900 76.6%,#ff5000 83.7%)"></i><i style="background:linear-gradient(90deg,#0fe 3.3%,#00ffe2 21.7%,#00ffce 31.5%,#00ffca 32.6%,#22ffc9 33.2%,#42ffc8 34.2%,#6dffc6 36.4%,#aeffc2 40.8%,#fbffba 46.7%,#fff5b1 47.8%,#ffcb8d 52.2%,#ffa066 58.7%,#ff7338 68.5%,#ff5a14 75.5%,#ff5400 77.7%,#ff4d00 84.2%)"></i><i style="background:linear-gradient(90deg,#00ffef 3.3%,#00ffe4 21.7%,#00ffd4 30.4%,#00ffcf 32.1%,#0dffcd 32.6%,#28ffcd 33.2%,#52ffcb 34.8%,#8bffc8 38%,#f9ffbf 46.2%,#fffebe 46.7%,#ffcc92 51.6%,#ffa06a 58.2%,#ff733d 67.9%,#ff5615 76.1%,#ff5000 78.3%,#ff4900 84.8%)"></i><i style="background:linear-gradient(90deg,#00fff1 3.3%,#00ffe3 23.9%,#00ffd2 32.1%,#2dffd0 33.2%,#56ffcf 34.8%,#8effcc 38%,#f6ffc4 45.7%,#fffabf 46.7%,#ffce98 51.1%,#ffa372 57.1%,#ff7746 66.3%,#ff5216 76.6%,#ff4d08 78.3%,#ff4c00 78.8%,#ff4500 85.3%)"></i><i style="background:linear-gradient(90deg,#00fff2 3.3%,#00ffe5 23.9%,#00ffd5 32.1%,#1fffd4 32.6%,#41ffd3 33.7%,#6effd2 35.9%,#b1ffce 40.2%,#fffdc6 46.2%,#ffcf9e 50.5%,#ffa476 56.5%,#ff794c 65.2%,#ff501a 76.6%,#ff490a 78.8%,#ff4800 79.3%,#ff4200 85.9%)"></i><i style="background:linear-gradient(90deg,#00fff3 3.8%,#00ffe7 23.9%,#00ffd8 32.1%,#25ffd8 32.6%,#45ffd7 33.7%,#72ffd5 35.9%,#ccffd1 41.8%,#feffcd 45.7%,#ffd0a3 50%,#ffa47b 56%,#ff7951 64.7%,#ff4a17 77.7%,#ff4300 80.4%,#ff3e00 86.4%)"></i><i style="background:linear-gradient(90deg,#00fff4 3.8%,#00ffe8 25%,#0fd 31.5%,#12ffdc 32.1%,#2bffdb 32.6%,#4affdb 33.7%,#7fffd9 36.4%,#d7ffd4 42.4%,#fcffd2 45.1%,#ffdcb2 48.4%,#ffaf89 53.8%,#ff825e 62%,#ff542c 73.9%,#ff4311 79.3%,#ff3e00 81%,#ff3a00 87%)"></i><i style="background:linear-gradient(90deg,#00fff5 3.8%,#00ffea 25.5%,#00ffe0 31.5%,#31ffdf 32.6%,#5affde 34.2%,#94ffdc 37.5%,#fffed6 45.1%,#ffceaa 49.5%,#ffa281 55.4%,#ff7656 64.1%,#ff441b 78.3%,#ff3b08 81%,#ff3a00 81.5%,#ff3500 87.5%)"></i><i style="background:linear-gradient(90deg,#00fff6 3.8%,#00ffec 26.1%,#00ffe3 31.5%,#22ffe3 32.1%,#45ffe2 33.2%,#73ffe1 35.3%,#c8ffde 40.8%,#fdffdc 44.6%,#ffcbab 49.5%,#ff9f82 55.4%,#ff7156 64.7%,#ff3c16 79.9%,#ff370a 81.5%,#ff3500 82.1%,#ff3100 88%)"></i><i style="background:linear-gradient(90deg,#00fff7 3.8%,#0fe 26.6%,#00ffe8 31%,#0bffe7 31.5%,#29ffe7 32.1%,#49ffe6 33.2%,#76ffe5 35.3%,#bcffe3 39.7%,#faffe1 44%,#fff5d7 45.1%,#ffc7ad 49.5%,#ff9c84 55.4%,#ff6f57 64.7%,#ff3919 79.9%,#ff320b 82.1%,#ff3000 83.2%,#ff2c00 88.6%)"></i><i style="background:linear-gradient(90deg,#00fff9 3.8%,#00fff0 27.2%,#00ffeb 31%,#2fffeb 32.1%,#4effea 33.2%,#8dffe9 36.4%,#ffffe6 44%,#ffd3bc 47.8%,#ffab96 52.7%,#ff826f 59.8%,#ff4e39 72.8%,#ff3114 81.5%,#ff2b00 83.7%,#ff2800 89.1%)"></i><i style="background:linear-gradient(90deg,#00fffa 4.3%,#00fff2 28.3%,#00ffef 31%,#1fffef 31.5%,#4fe 32.6%,#74ffee 34.8%,#bcffec 39.1%,#fcffeb 43.5%,#ffdac7 46.7%,#ffab9b 52.2%,#ff7f70 59.8%,#ff4c3b 72.8%,#ff2c15 82.1%,#ff2708 83.7%,#ff2500 84.2%,#f20 89.7%)"></i><i style="background:linear-gradient(90deg,#00fffb 4.3%,#00fff4 29.9%,#00fff3 31%,#26fff3 31.5%,#49fff3 32.6%,#82fff2 35.3%,#e1fff1 41.3%,#fffeef 43.5%,#ffd0c3 47.3%,#ffa498 52.7%,#ff7a6f 60.3%,#ff382b 77.7%,#ff230e 83.7%,#ff1f01 84.8%,#ff1c00 90.2%)"></i><i style="background:linear-gradient(90deg,#00fffc 4.3%,#00fff7 30.4%,#11fff7 31%,#2dfff7 31.5%,#4dfff7 32.6%,#86fff6 35.3%,#e5fff5 41.3%,#fdfff5 42.9%,#ffc7bf 47.8%,#ff978f 54.3%,#ff6962 63.6%,#ff2216 83.2%,#ff1700 85.9%,#ff1600 90.8%)"></i><i style="background:linear-gradient(90deg,#00fffe 4.3%,#00fffb 30.4%,#33fffb 31.5%,#5ffffb 33.2%,#9dfffb 36.4%,#fafffa 42.4%,#fff4f0 43.5%,#ffceca 46.7%,#ffa5a2 51.6%,#ff7c79 58.7%,#ff4441 72.8%,#ff1b16 83.7%,#ff1007 85.9%,#ff0d00 86.4%,#ff0c00 91.3%)"></i><i style="background:linear-gradient(90deg,#0ff 4.3%,#0ff 30.4%,#23ffff 31%,#48ffff 32.1%,#79ffff 34.2%,#d5feff 39.7%,#fefeff 42.4%,#ffcacb 46.7%,#ff9f9f 52.2%,#ff7273 60.3%,#ff3031 77.7%,#ff1014 84.8%,#ff000a 86.4%,#ff000a 91.8%)"></i><i style="background:linear-gradient(90deg,#00feff 4.9%,#00fbff 29.9%,#09faff 30.4%,#2afaff 31%,#4cfaff 32.1%,#85faff 34.8%,#ddf9ff 40.2%,#fef9ff 42.4%,#ffc6cc 46.7%,#ff9ba1 52.2%,#ff6f74 60.3%,#ff1721 82.6%,#ff0817 84.8%,#ff0015 85.3%,#ff0014 92.4%)"></i><i style="background:linear-gradient(90deg,#00fcff 4.9%,#00f7ff 29.9%,#2ff6ff 31%,#5cf6ff 32.6%,#99f5ff 35.9%,#fdf4ff 42.4%,#ffc2cd 46.7%,#ff98a2 52.2%,#ff6f78 59.8%,#ff313c 75.5%,#ff1224 82.6%,#ff091f 83.7%,#ff001d 84.2%,#ff001a 92.9%)"></i><i style="background:linear-gradient(90deg,#00fbff 4.9%,#00f4ff 28.3%,#00f2ff 29.9%,#1ef2ff 30.4%,#34f2ff 31%,#5ef2ff 32.6%,#9bf1ff 35.9%,#fdeeff 42.4%,#ffbfce 46.7%,#ff99a6 51.6%,#ff6c79 59.8%,#ff3645 73.4%,#ff132a 81.5%,#ff0023 83.7%,#ff0020 93.5%)"></i><i style="background:linear-gradient(90deg,#00faff 4.9%,#00f1ff 27.7%,#0ef 29.9%,#25eeff 30.4%,#47eeff 31.5%,#76edff 33.7%,#c6ebff 38.6%,#fde9ff 42.4%,#ffb6c9 47.3%,#ff8b9d 53.3%,#ff6071 62%,#ff1731 79.9%,#ff0029 82.6%,#ff0024 94%)"></i><i style="background:linear-gradient(90deg,#00f8ff 4.9%,#00f0ff 25.5%,#00ebff 29.3%,#0feaff 29.9%,#2beaff 30.4%,#4beaff 31.5%,#82e8ff 34.2%,#dee5ff 40.2%,#fce4ff 42.4%,#ffc1da 45.7%,#ff99b0 50.5%,#ff6e83 58.2%,#ff3c54 70.1%,#ff1737 78.8%,#ff0730 81%,#ff002f 81.5%,#ff0028 94.6%)"></i><i style="background:linear-gradient(90deg,#00f7ff 5.4%,#00edff 25%,#00e7ff 29.3%,#30e6ff 30.4%,#5ae5ff 32.1%,#95e4ff 35.3%,#fcdfff 42.4%,#ffbddb 45.7%,#ff96b1 50.5%,#ff6882 58.7%,#ff334f 71.7%,#ff153a 78.3%,#ff0835 79.9%,#ff0034 80.4%,#ff002c 95.1%)"></i><i style="background:linear-gradient(90deg,#00f5ff 5.4%,#00ecff 23.4%,#00e3ff 29.3%,#20e2ff 29.9%,#44e2ff 31%,#72e0ff 33.2%,#c7ddff 38.6%,#fcdaff 42.4%,#ffb9db 45.7%,#ff8baa 51.6%,#ff5c79 60.9%,#ff163f 77.2%,#ff093a 78.8%,#ff0039 79.3%,#ff002f 95.7%)"></i><i style="background:linear-gradient(90deg,#00f4ff 5.4%,#00e9ff 23.4%,#00e0ff 28.8%,#04dfff 29.3%,#26deff 29.9%,#47deff 31%,#74dcff 33.2%,#c0d9ff 38%,#fbd5ff 42.4%,#ffcbf4 43.5%,#ff9ec3 48.4%,#ff7598 54.9%,#ff486b 64.7%,#ff1a46 75.5%,#ff0a3f 77.7%,#ff003d 78.3%,#ff0032 96.2%)"></i><i style="background:linear-gradient(90deg,#00f3ff 5.4%,#00e6ff 23.9%,#00dcff 28.8%,#13dbff 29.3%,#2cdaff 29.9%,#56d9ff 31.5%,#88d7ff 34.2%,#edd1ff 41.3%,#ffcdfc 42.9%,#ffa3cd 47.3%,#ff789f 53.8%,#ff4e75 62.5%,#ff1a4b 74.5%,#ff0b44 76.6%,#ff0042 77.7%,#ff0035 96.7%)"></i><i style="background:linear-gradient(90deg,#00f1ff 6%,#00e5ff 22.3%,#00d8ff 28.8%,#1cd7ff 29.3%,#40d6ff 30.4%,#6dd5ff 32.6%,#b2d1ff 37%,#fbcbff 42.4%,#ffc2f5 43.5%,#ff9bc9 47.8%,#ff729d 54.3%,#ff4470 64.1%,#ff184e 73.9%,#ff0647 76.1%,#ff0046 76.6%,#ff0037 97.3%)"></i><i style="background:linear-gradient(90deg,#00f0ff 6%,#00e1ff 23.4%,#00d4ff 28.8%,#22d3ff 29.3%,#43d2ff 30.4%,#6fd1ff 32.6%,#b2cdff 37%,#fbc7ff 42.4%,#ffbef6 43.5%,#ff97ca 47.8%,#ff6f9e 54.3%,#ff4171 64.1%,#ff1953 72.8%,#ff074c 75%,#ff004b 75.5%,#ff003a 97.8%)"></i><i style="background:linear-gradient(90deg,#0ef 6%,#00e0ff 22.3%,#00d2ff 28.3%,#0cd0ff 28.8%,#28cfff 29.3%,#46cfff 30.4%,#71cdff 32.6%,#b3c8ff 37%,#ffbffd 42.9%,#ff98d0 47.3%,#ff74a8 52.7%,#ff497d 61.4%,#ff1a57 71.7%,#ff0951 73.9%,#ff004f 74.5%,#ff003c 98.4%)"></i><i style="background:linear-gradient(90deg,#00edff 6%,#00deff 21.7%,#00ceff 28.3%,#2dccff 29.3%,#60caff 31.5%,#a4c5ff 35.9%,#ffbbfd 42.9%,#ff94d0 47.3%,#ff6ba3 53.8%,#ff3f77 63%,#ff175a 71.2%,#ff0a55 72.8%,#ff0054 73.4%,#ff0040 95.7%,#ff003e 98.9%)"></i><i style="background:linear-gradient(90deg,#00ebff 6%,#0df 20.7%,#0cf 27.7%,#00c9ff 28.3%,#1ec8ff 28.8%,#40c7ff 29.9%,#75c5ff 32.6%,#cabeff 38.6%,#ffb6fd 42.9%,#ff8ccc 47.8%,#ff65a1 54.3%,#ff3674 64.1%,#ff145d 70.7%,#ff0b5a 71.7%,#ff0258 72.3%,#ff0042 96.2%,#ff0040 99.5%)"></i><i style="background:linear-gradient(90deg,#00e9ff 6.5%,#00daff 21.2%,#00c8ff 27.7%,#00c5ff 28.3%,#24c5ff 28.8%,#43c4ff 29.9%,#6dc1ff 32.1%,#b5bcff 37%,#ffb2fe 42.9%,#ff8cd2 47.3%,#ff67a8 53.3%,#ff3f80 61.4%,#ff1562 69.6%,#ff005c 71.7%,#ff0047 92.4%,#ff0042 100%)"></i><i style="background:linear-gradient(90deg,#00e8ff 6.5%,#00d8ff 20.7%,#00c4ff 27.7%,#11c2ff 28.3%,#29c1ff 28.8%,#46c0ff 29.9%,#78bdff 32.6%,#c3b6ff 38%,#ffadfe 42.9%,#ff89d2 47.3%,#ff63a9 53.3%,#ff3b81 61.4%,#ff1667 68.5%,#ff0060 70.7%,#ff004a 91.3%,#f04 100%)"></i><i style="background:linear-gradient(90deg,#00e6ff 6.5%,#00d7ff 20.1%,#00c0ff 27.7%,#2dbeff 28.8%,#54bcff 30.4%,#8ab8ff 33.7%,#f3abff 41.8%,#ffa9fe 42.9%,#ff85d3 47.3%,#ff5da6 53.8%,#ff2775 64.7%,#ff0e68 68.5%,#ff0065 69.6%,#ff004e 89.1%,#ff0047 98.9%)"></i><i style="background:linear-gradient(90deg,#00e5ff 6.5%,#00d5ff 19.6%,#00c1ff 26.6%,#00bcff 27.7%,#20bbff 28.3%,#3fb9ff 29.3%,#69b7ff 31.5%,#b0b0ff 36.4%,#ffa4ff 42.9%,#ff81d4 47.3%,#ff59a7 53.8%,#ff2276 64.7%,#ff0a6b 67.9%,#ff0069 68.5%,#ff0052 87%,#ff004a 97.8%)"></i><i style="background:linear-gradient(90deg,#00e3ff 7.1%,#00d2ff 20.1%,#00bdff 26.6%,#00baff 27.2%,#09b8ff 27.7%,#25b7ff 28.3%,#4eb5ff 29.9%,#84b1ff 33.2%,#dfa5ff 40.2%,#ffa0ff 42.9%,#ff79d0 47.8%,#ff4d9f 55.4%,#ff1573 65.8%,#ff0b70 66.8%,#ff006e 67.4%,#ff0057 83.7%,#ff004c 96.7%)"></i><i style="background:linear-gradient(90deg,#00e1ff 7.1%,#00d2ff 18.5%,#00beff 25.5%,#00b6ff 27.2%,#2ab3ff 28.3%,#50b1ff 29.9%,#85adff 33.2%,#d9a2ff 39.7%,#ff9bff 42.9%,#ff79d5 47.3%,#ff52a9 53.8%,#ff1a7a 64.1%,#ff0c74 65.8%,#ff0373 66.3%,#ff006c 69.6%,#ff0054 89.1%,#ff004f 95.7%)"></i><i style="background:linear-gradient(90deg,#00e0ff 7.1%,#00ceff 19.6%,#00b8ff 26.1%,#00b2ff 27.2%,#1bb1ff 27.7%,#3cafff 28.8%,#66acff 31%,#aba5ff 35.9%,#fe97ff 42.9%,#ff6ecd 48.4%,#ff429e 56%,#ff177d 63.6%,#ff0076 65.8%,#ff005d 82.1%,#ff0052 94.6%)"></i><i style="background:linear-gradient(90deg,#00deff 7.1%,#00cdff 19%,#00b7ff 25.5%,#00aeff 27.2%,#21adff 27.7%,#3facff 28.8%,#68a9ff 31%,#aba1ff 35.9%,#fe92ff 42.9%,#ff6dd2 47.8%,#ff47a8 54.3%,#ff1883 62.5%,#ff077c 64.1%,#ff007b 64.7%,#ff0062 79.3%,#f05 92.9%)"></i><i style="background:linear-gradient(90deg,#00dcff 7.6%,#00c9ff 19.6%,#00b3ff 25.5%,#00adff 26.6%,#0eaaff 27.2%,#26aaff 27.7%,#42a8ff 28.8%,#72a4ff 31.5%,#c698ff 38%,#fe8dff 42.9%,#ff62ca 48.9%,#ff379d 56.5%,#ff1586 62%,#ff0080 63.6%,#f06 77.7%,#ff0058 91.8%)"></i><i style="background:linear-gradient(90deg,#00dbff 7.6%,#00c8ff 19%,#00b2ff 25%,#00a9ff 26.6%,#2ba6ff 27.7%,#50a4ff 29.3%,#8a9dff 33.2%,#e58eff 40.8%,#fe88ff 42.9%,#ff61cf 48.4%,#ff3ba6 54.9%,#ff168b 60.9%,#ff0b87 62%,#ff0085 62.5%,#ff006b 75.5%,#ff005a 90.8%)"></i><i style="background:linear-gradient(90deg,#00d9ff 7.6%,#00c8ff 17.9%,#00b1ff 24.5%,#00a5ff 26.6%,#1da3ff 27.2%,#3ca2ff 28.3%,#6d9dff 31%,#ba92ff 37%,#fd84ff 42.9%,#ff5dd0 48.4%,#ff33a4 55.4%,#ff128e 60.3%,#ff0c8c 60.9%,#ff008a 61.4%,#ff0071 73.4%,#ff005d 89.7%)"></i><i style="background:linear-gradient(90deg,#00d8ff 7.6%,#00c3ff 19%,#00a8ff 25.5%,#00a4ff 26.1%,#06a1ff 26.6%,#23a0ff 27.2%,#4a9dff 28.8%,#7e98ff 32.1%,#d988ff 39.7%,#fd7fff 42.9%,#ff52c8 49.5%,#ff1c98 58.2%,#ff0d91 59.8%,#ff008d 60.9%,#ff0072 73.9%,#ff0060 88.6%)"></i><i style="background:linear-gradient(90deg,#00d5ff 8.2%,#00c2ff 18.5%,#0af 24.5%,#00a0ff 26.1%,#279dff 27.2%,#4d9aff 28.8%,#7f94ff 32.1%,#cd86ff 38.6%,#fd7aff 42.9%,#ff4dc9 49.5%,#ff199c 57.6%,#ff0093 59.8%,#ff0078 71.2%,#ff0063 87.5%)"></i><i style="background:linear-gradient(90deg,#00d4ff 8.2%,#00bfff 18.5%,#00a7ff 24.5%,#009cff 26.1%,#199aff 26.6%,#3998ff 27.7%,#6194ff 29.9%,#a98aff 35.3%,#fd75ff 42.9%,#ff49ca 49.5%,#ff1fa4 56%,#ff099a 58.2%,#ff0098 58.7%,#ff007b 70.7%,#f06 85.9%)"></i><i style="background:linear-gradient(90deg,#00d2ff 8.2%,#00bdff 18.5%,#00a3ff 24.5%,#0098ff 26.1%,#1f97ff 26.6%,#3c95ff 27.7%,#6b90ff 30.4%,#b084ff 35.9%,#fc70ff 42.9%,#ff59e3 46.2%,#ff2fb6 52.7%,#ff11a2 56.5%,#ff009d 57.6%,#ff0080 69%,#ff0069 84.8%)"></i><i style="background:linear-gradient(90deg,#00d0ff 8.2%,#00bcff 17.9%,#00a6ff 23.4%,#0098ff 25.5%,#0c94ff 26.1%,#2493ff 26.6%,#4a90ff 28.3%,#7c8aff 31.5%,#e074ff 40.2%,#ff68fc 43.5%,#ff42cf 48.9%,#ff18ab 54.9%,#ff0ca6 56%,#ff00a3 56.5%,#ff0085 67.4%,#ff006c 83.2%,#ff006c 83.7%)"></i><i style="background:linear-gradient(90deg,#00ceff 8.7%,#00b9ff 17.9%,#00a2ff 23.4%,#0094ff 25.5%,#2890ff 26.6%,#4c8dff 28.3%,#8485ff 32.1%,#e070ff 40.2%,#ff63fd 43.5%,#ff41d3 48.4%,#ff19b2 53.8%,#ff0eac 54.9%,#ff00a9 55.4%,#ff008a 65.8%,#ff0070 81%,#ff006e 82.6%)"></i><i style="background:linear-gradient(90deg,#0cf 8.7%,#00b5ff 18.5%,#009bff 23.9%,#008fff 25.5%,#1b8dff 26.1%,#398bff 27.2%,#6886ff 29.9%,#ab79ff 35.3%,#fc61ff 42.9%,#ff4ae4 46.2%,#ff1bb8 52.7%,#ff0fb2 53.8%,#ff00ad 54.9%,#ff008e 64.7%,#ff0071 81.5%)"></i><i style="background:linear-gradient(90deg,#00caff 8.7%,#00b6ff 17.4%,#009bff 23.4%,#018bff 25.5%,#208aff 26.1%,#3c88ff 27.2%,#7181ff 30.4%,#be70ff 37%,#ff59fd 43.5%,#ff32d0 48.9%,#ff11b9 52.7%,#ff00b3 53.8%,#ff0094 63%,#ff0079 76.6%,#ff0074 80.4%)"></i><i style="background:linear-gradient(90deg,#00c8ff 9.2%,#00b0ff 18.5%,#0094ff 23.9%,#008bff 25%,#2586ff 26.1%,#4983ff 27.7%,#797cff 31%,#c46aff 37.5%,#ff54fd 43.5%,#ff27cd 49.5%,#ff0abd 52.2%,#ff00ba 52.7%,#ff0098 62%,#ff0079 77.7%,#ff0078 78.8%)"></i><i style="background:linear-gradient(90deg,#00c6ff 9.2%,#00afff 17.9%,#0094ff 23.4%,#0087ff 25%,#2983ff 26.1%,#547fff 28.3%,#8f74ff 32.6%,#f056ff 41.8%,#ff4efe 43.5%,#ff24d1 48.9%,#ff0cc4 51.1%,#ff00c0 51.6%,#ff00a0 59.8%,#ff0083 72.3%,#ff007b 77.7%)"></i><i style="background:linear-gradient(90deg,#00c4ff 9.2%,#00acff 17.9%,#0090ff 23.4%,#0082ff 25%,#1d81ff 25.5%,#397eff 26.6%,#6678ff 29.3%,#a26cff 34.2%,#fb4bff 42.9%,#ff44f9 44%,#ff15ce 49.5%,#ff0ecb 50%,#ff00c8 50.5%,#ff00a9 57.6%,#ff008c 68.5%,#ff007e 76.6%)"></i><i style="background:linear-gradient(90deg,#00c1ff 9.8%,#00a8ff 18.5%,#08f 23.9%,#0083ff 24.5%,#0a7eff 25%,#227dff 25.5%,#467aff 27.2%,#7672ff 30.4%,#ba60ff 36.4%,#ff42fe 43.5%,#ff17d6 48.4%,#ff03cf 49.5%,#ff00be 52.7%,#ff009e 61.4%,#ff0081 75.5%)"></i><i style="background:linear-gradient(90deg,#00bfff 9.8%,#00a9ff 17.4%,#0090ff 22.3%,#007fff 24.5%,#267aff 25.5%,#4976ff 27.2%,#856bff 31.5%,#e04dff 40.2%,#ff3bfe 43.5%,#ff18de 47.3%,#ff00d3 48.9%,#ff00af 56.5%,#ff0090 67.9%,#ff0084 74.5%)"></i><i style="background:linear-gradient(90deg,#00beff 9.8%,#00a7ff 17.4%,#008cff 22.3%,#007aff 24.5%,#1978ff 25%,#3675ff 26.1%,#5c70ff 28.3%,#9862ff 33.2%,#e544ff 40.8%,#ff34ff 43.5%,#ff13e3 46.7%,#ff00db 47.8%,#ff00b9 54.3%,#ff009a 64.1%,#ff0087 73.4%)"></i><i style="background:linear-gradient(90deg,#00baff 10.3%,#00a2ff 17.9%,#0089ff 22.3%,#0076ff 24.5%,#1e74ff 25%,#4470ff 26.6%,#7a66ff 30.4%,#cb4bff 38%,#fa30ff 42.9%,#ff27fa 44%,#ff0ce8 46.2%,#ff00e4 46.7%,#ff00c1 52.7%,#ff00a1 62%,#ff008b 71.7%)"></i><i style="background:linear-gradient(90deg,#00b9ff 10.3%,#009fff 17.9%,#0085ff 22.3%,#07f 23.9%,#0e72ff 24.5%,#2371ff 25%,#466dff 26.6%,#7b62ff 30.4%,#c649ff 37.5%,#f52dff 42.4%,#ff23ff 43.5%,#ff0ef1 45.1%,#ff00ec 45.7%,#ff00c5 52.2%,#ff00a5 60.9%,#ff008f 70.7%)"></i><i style="background:linear-gradient(90deg,#00b7ff 10.3%,#009cff 17.9%,#0081ff 22.3%,#0072ff 23.9%,#276dff 25%,#4869ff 26.6%,#7660ff 29.9%,#cc40ff 38%,#f424ff 42.4%,#ff18ff 43.5%,#ff10fa 44%,#ff00f6 44.6%,#ff00d1 50%,#ff00ad 58.7%,#ff0092 69.6%)"></i><i style="background:linear-gradient(90deg,#00b3ff 10.9%,#0097ff 18.5%,#0078ff 22.8%,#006dff 23.9%,#1b6bff 24.5%,#3768ff 25.5%,#6261ff 28.3%,#a14eff 33.7%,#db31ff 39.7%,#f419ff 42.4%,#f912ff 42.9%,#fe04ff 43.5%,#ff00f6 44.6%,#f0c 51.1%,#ff00a6 61.4%,#ff0096 68.5%)"></i><i style="background:linear-gradient(90deg,#00b1ff 10.9%,#0097ff 17.9%,#0079ff 22.3%,#006eff 23.4%,#0769ff 23.9%,#2067ff 24.5%,#4363ff 26.1%,#6b5bff 28.8%,#b242ff 35.3%,#e025ff 40.2%,#ef13ff 41.8%,#f900ff 42.9%,#ff00fb 44%,#ff00d6 49.5%,#ff00b5 57.1%,#f09 67.4%)"></i><i style="background:linear-gradient(90deg,#00afff 10.9%,#09f 16.8%,#007aff 21.7%,#006aff 23.4%,#2464ff 24.5%,#465fff 26.1%,#7953ff 29.9%,#bd37ff 36.4%,#e01bff 40.2%,#ef00ff 41.8%,#fe00ff 43.5%,#ff00da 48.9%,#ff00ba 56%,#ff009d 66.3%)"></i><i style="background:linear-gradient(90deg,#00acff 11.4%,#008eff 18.5%,#0071ff 22.3%,#0065ff 23.4%,#1762ff 23.9%,#345fff 25%,#5858ff 27.2%,#9844ff 32.6%,#c729ff 37.5%,#db15ff 39.7%,#e500ff 40.8%,#fe00ff 43.5%,#ff00d5 50%,#ff00b5 57.6%,#ff00a2 64.7%)"></i><i style="background:linear-gradient(90deg,#0af 11.4%,#008eff 17.9%,#006cff 22.3%,#0060ff 23.4%,#1d5eff 23.9%,#4159ff 25.5%,#6f4fff 28.8%,#b331ff 35.3%,#d216ff 38.6%,#d70eff 39.1%,#dc00ff 39.7%,#fe00ff 43.5%,#ff00d5 50%,#ff00b1 59.2%,#ff00a5 63.6%)"></i><i style="background:linear-gradient(90deg,#00a7ff 11.4%,#008eff 17.4%,#0073ff 21.2%,#0062ff 22.8%,#0c5cff 23.4%,#215aff 23.9%,#4c54ff 26.1%,#8244ff 30.4%,#b926ff 35.9%,#cd0fff 38%,#d200ff 38.6%,#fd00ff 43.5%,#ff00d6 50%,#ff00b2 59.2%,#ff00a9 62.5%)"></i><i style="background:linear-gradient(90deg,#00a3ff 12%,#08f 17.9%,#0069ff 21.7%,#005dff 22.8%,#2556ff 23.9%,#4e4fff 26.1%,#833fff 30.4%,#b422ff 35.3%,#c311ff 37%,#c805ff 37.5%,#d300ff 38.6%,#fd00ff 43.5%,#ff00d4 50.5%,#ff00b0 60.3%,#ff00ad 61.4%)"></i><i style="background:linear-gradient(90deg,#00a1ff 12%,#08f 17.4%,#0065ff 21.7%,#0057ff 22.8%,#1954ff 23.4%,#3451ff 24.5%,#5e47ff 27.2%,#9034ff 31.5%,#b518ff 35.3%,#c400ff 37%,#fd00ff 43.5%,#ff00d5 50.5%,#ff00b1 60.3%)"></i><i style="background:linear-gradient(90deg,#009fff 12%,#0085ff 17.4%,#06f 21.2%,#0059ff 22.3%,#0452ff 22.8%,#1e50ff 23.4%,#414bff 25%,#6d3eff 28.3%,#a123ff 33.2%,#b013ff 34.8%,#ba00ff 35.9%,#fd00ff 43.5%,#ff00d3 51.1%,#ff00b5 59.2%)"></i><i style="background:linear-gradient(90deg,#009bff 12.5%,#007aff 18.5%,#005bff 21.7%,#0054ff 22.3%,#224cff 23.4%,#4347ff 25%,#7b34ff 29.3%,#a11aff 33.2%,#ab0cff 34.2%,#b100ff 34.8%,#f900ff 42.9%,#ff00f9 44.6%,#ff00cf 52.2%,#f0b 57.6%)"></i><i style="background:linear-gradient(90deg,#0098ff 12.5%,#007bff 17.9%,#005dff 21.2%,#004fff 22.3%,#164aff 22.8%,#3246ff 23.9%,#5c3bff 26.6%,#8d23ff 31%,#a20dff 33.2%,#a700ff 33.7%,#e300ff 40.2%,#ff00fd 44%,#ff00d7 50.5%,#ff00c0 56.5%)"></i><i style="background:linear-gradient(90deg,#0094ff 13%,#07f 17.9%,#0058ff 21.2%,#0049ff 22.3%,#1b46ff 22.8%,#3542ff 23.9%,#6434ff 27.2%,#8d1bff 31%,#980fff 32.1%,#9d00ff 32.6%,#d600ff 38.6%,#ff00fe 44%,#ff00d8 50.5%,#ff00c4 55.4%)"></i><i style="background:linear-gradient(90deg,#0091ff 13%,#0074ff 17.9%,#0053ff 21.2%,#004bff 21.7%,#0a44ff 22.3%,#1f42ff 22.8%,#403bff 24.5%,#6c2bff 27.7%,#8916ff 30.4%,#90f 32.1%,#d200ff 38%,#ff00fe 44%,#ff00db 50%,#ff00c9 54.3%)"></i><i style="background:linear-gradient(90deg,#008fff 13%,#006cff 18.5%,#004eff 21.2%,#0046ff 21.7%,#233dff 22.8%,#4336ff 24.5%,#791cff 28.8%,#8a08ff 30.4%,#9000ff 31%,#d300ff 38%,#ff00fe 44%,#ff00d7 51.1%,#ff00ce 53.3%)"></i><i style="background:linear-gradient(90deg,#0089ff 13.6%,#006dff 17.9%,#0050ff 20.7%,#003fff 21.7%,#183bff 22.3%,#3236ff 23.4%,#542bff 25.5%,#7418ff 28.3%,#8600ff 29.9%,#c600ff 36.4%,#ff00fe 44%,#ff00da 50.5%,#ff00d3 52.2%)"></i><i style="background:linear-gradient(90deg,#0087ff 13.6%,#0069ff 17.9%,#004bff 20.7%,#0039ff 21.7%,#1c36ff 22.3%,#3531ff 23.4%,#5c21ff 26.1%,#750cff 28.3%,#7b00ff 28.8%,#b400ff 34.2%,#fc00ff 43.5%,#f0e 46.7%,#ff00db 50.5%)"></i><i style="background:linear-gradient(90deg,#0081ff 14.1%,#0065ff 17.9%,#004dff 20.1%,#003cff 21.2%,#2031ff 22.3%,#4028ff 23.9%,#6414ff 26.6%,#6b0dff 27.2%,#7100ff 27.7%,#ab00ff 33.2%,#f100ff 41.8%,#f0f 44%,#ff00e0 49.5%)"></i><i style="background:linear-gradient(90deg,#007eff 14.1%,#0062ff 17.9%,#003fff 20.7%,#0035ff 21.2%,#242cff 22.3%,#4222ff 23.9%,#5f0eff 26.1%,#6602ff 26.6%,#9800ff 31%,#d900ff 38.6%,#f0f 44%,#ff00e6 48.4%)"></i><i style="background:linear-gradient(90deg,#0078ff 14.7%,#0058ff 18.5%,#0039ff 20.7%,#002eff 21.2%,#1929ff 21.7%,#3c1fff 23.4%,#530fff 25%,#6200ff 26.1%,#9a00ff 31%,#de00ff 39.1%,#f0f 44%,#ff00ec 47.3%)"></i><i style="background:linear-gradient(90deg,#0075ff 14.7%,#0059ff 17.9%,#003cff 20.1%,#0032ff 20.7%,#0826ff 21.2%,#1e23ff 21.7%,#3e16ff 23.4%,#5600ff 25%,#8600ff 28.8%,#c600ff 35.9%,#f0f 44%,#ff00f2 46.2%)"></i><i style="background:linear-gradient(90deg,#006eff 15.2%,#004fff 18.5%,#0036ff 20.1%,#002aff 20.7%,#101fff 21.2%,#221bff 21.7%,#400aff 23.4%,#4900ff 23.9%,#7600ff 27.2%,#ac00ff 32.6%,#ea00ff 40.8%,#f0f 44%,#ff00f9 45.1%)"></i><i style="background:linear-gradient(90deg,#006bff 15.2%,#004aff 18.5%,#002fff 20.1%,#0021ff 20.7%,#1617ff 21.2%,#300bff 22.3%,#3a00ff 22.8%,#5e00ff 25%,#9000ff 29.3%,#cf00ff 37%,#fb00ff 43.5%)"></i><i style="background:linear-gradient(90deg,#0063ff 15.8%,#0045ff 18.5%,#03f 19.6%,#0014ff 20.7%,#1b0dff 21.2%,#2800ff 21.7%,#4a00ff 23.4%,#7b00ff 27.2%,#a0f 32.1%,#ea00ff 40.8%,#f400ff 42.4%)"></i><i style="background:linear-gradient(90deg,#005fff 15.8%,#003fff 18.5%,#002bff 19.6%,#001cff 20.1%,#0c03ff 20.7%,#20f 21.2%,#3c00ff 22.3%,#6c00ff 25.5%,#a200ff 31%,#dc00ff 38.6%,#e0f 41.3%)"></i><i style="background:linear-gradient(90deg,#0056ff 16.3%,#003aff 18.5%,#0023ff 19.6%,#000eff 20.1%,#1b00ff 20.7%,#3700ff 21.7%,#5a00ff 23.9%,#8600ff 27.7%,#bd00ff 34.2%,#e700ff 40.2%)"></i><i style="background:linear-gradient(90deg,#0052ff 16.3%,#03f 18.5%,#0018ff 19.6%,#1200ff 20.1%,#2500ff 20.7%,#4600ff 22.3%,#6b00ff 25%,#9c00ff 29.9%,#e000ff 39.1%)"></i><i style="background:linear-gradient(90deg,#0047ff 16.8%,#002cff 18.5%,#001fff 19%,#0003ff 19.6%,#1e00ff 20.1%,#3800ff 21.2%,#5a00ff 23.4%,#8a00ff 27.7%,#c700ff 35.3%,#d900ff 38%)"></i><i style="background:linear-gradient(90deg,#0042ff 16.8%,#0024ff 18.5%,#0012ff 19%,#1700ff 19.6%,#3400ff 20.7%,#5e00ff 23.4%,#9100ff 28.3%,#cf00ff 36.4%)"></i><i style="background:linear-gradient(90deg,#0034ff 17.4%,#001aff 18.5%,#0c00ff 19%,#2100ff 19.6%,#3a00ff 20.7%,#6800ff 23.9%,#9c00ff 29.3%,#c800ff 35.3%)"></i><i style="background:linear-gradient(90deg,#0021ff 17.9%,#000cff 18.5%,#1b00ff 19%,#3500ff 20.1%,#5700ff 22.3%,#9000ff 27.7%,#c200ff 34.2%)"></i><i style="background:linear-gradient(90deg,#1200ff 18.5%,#3100ff 19.6%,#5300ff 21.7%,#8300ff 26.1%,#b0f 33.2%)"></i><i style="background:linear-gradient(90deg,#2c00ff 19%,#5000ff 21.2%,#8000ff 25.5%,#b400ff 32.1%)"></i><i style="background:linear-gradient(90deg,#3c00ff 19.6%,#6100ff 22.3%,#9500ff 27.7%,#ae00ff 31%)"></i><i style="background:linear-gradient(90deg,#4900ff 20.1%,#7500ff 23.9%,#a300ff 29.3%)"></i><i style="background:linear-gradient(90deg,#5400ff 20.7%,#8100ff 25%,#9c00ff 28.3%)"></i><i style="background:linear-gradient(90deg,#5e00ff 21.2%,#9500ff 27.2%)"></i><i style="background:linear-gradient(90deg,#6700ff 21.7%,#8e00ff 26.1%)"></i><i style="background:linear-gradient(90deg,#6f00ff 22.3%,#8700ff 25%)"></i><i></i></div><div id="cr"><div class="cf" style="left:298px;top:240px;width:210px;height:190px;clip-path:polygon(-60px 234.2px,-60.3px 234.3px,-60.6px 234.3px,-61px 234.3px,-61.3px 234.2px,-61.5px 234.1px,-61.7px 233.9px,-62px 233.8px,-62.2px 233.6px,-62.4px 233.4px,-62.7px 233.2px,-63px 233px,-63.2px 232.8px,-63.4px 232.6px,-63.6px 232.4px,-63.8px 232.2px,-64px 232px,-64.3px 231.8px,-64.5px 231.5px,-64.8px 231.3px,-65.1px 231px,-65.4px 230.8px,-65.7px 230.5px,-66.1px 230.2px,-66.5px 229.9px,-66.7px 229.7px,-66.9px 229.5px,-67.1px 229.4px,-67.3px 229.2px,-67.5px 229px,-67.7px 228.8px,-68px 228.6px,-68.2px 228.4px,-68.4px 228.2px,-68.7px 228px,-68.9px 227.8px,-69.2px 227.5px,-69.4px 227.3px,-69.7px 227.1px,-70px 226.8px,-70.3px 226.6px,-70.5px 226.3px,-70.8px 226.1px,-71.1px 225.8px,-71.4px 225.5px,-71.7px 225.2px,-72.1px 224.9px,-72.4px 224.6px,-72.7px 224.3px,-73.1px 223.9px,-73.4px 223.6px,-73.8px 223.2px,-74.1px 222.8px,-74.5px 222.4px,-74.9px 222.1px,-75.2px 221.7px,-75.6px 221.2px,-76px 220.8px,-76.4px 220.3px,-76.8px 219.8px,-77.2px 219.3px,-77.7px 218.8px,-78.1px 218.2px,-78.6px 217.5px,-79.1px 216.9px,-79.6px 216.2px,-80.1px 215.4px,-80.6px 214.6px,-81.2px 213.8px,-81.7px 212.9px,-82.3px 212px,-82.9px 211px,-83.5px 210px,-84.1px 208.9px,-84.7px 207.8px,-85.4px 206.7px,-86px 205.4px,-86.7px 204.1px,-87.4px 202.8px,-88.1px 201.4px,-88.8px 199.9px,-89.6px 198.3px,-90.3px 196.7px,-91.1px 195px,-91.9px 193.2px,-92.7px 191.3px,-93.5px 189.3px,-94.4px 187.3px,-95.2px 185.1px,-96.1px 182.9px,-97px 180.6px,-98px 178.1px,-98.9px 175.6px,-99.9px 172.9px,-100.9px 170.2px,-102px 167.3px,-103px 164.4px,-104.1px 161.3px,-105.2px 158.1px,-106.3px 154.8px,-107.4px 151.4px,-108.6px 147.8px,-109.7px 144.1px,-110.8px 140.3px,-111.9px 136.4px,-113px 132.3px,-114.2px 128.1px,-115.3px 123.8px,-116.4px 119.3px,-117.5px 114.8px,-118.6px 110.1px,-119.7px 105.2px,-120.8px 100.3px,-122px 95.2px,-123.1px 90px,-124.2px 84.7px,-125.3px 79.3px,-126.3px 73.7px,-127.4px 68.1px,-128.4px 62.5px,-129.5px 56.7px,-130.5px 50.9px,-131.4px 45px,-132.4px 39.1px,-133.3px 33.2px,-134.1px 27.2px,-135px 21.2px,-135.8px 15.2px,-136.5px 9.2px,-137.2px 3.3px,-137.9px -2.7px,-138.5px -8.6px,-139px -14.5px,-139.5px -20.4px,-140px -26.2px,-140.4px -31.9px,-140.7px -37.6px,-141px -43.2px,-141.2px -48.8px,-141.4px -54.2px,-141.5px -59.6px,-141.5px -64.9px,-141.5px -70.1px,-141.3px -75.2px,-141.2px -80.3px,-140.9px -85.2px,-140.6px -90px,-140.2px -94.7px,-139.7px -99.2px,-139.2px -103.6px,-138.6px -107.9px,-137.9px -112.1px,-137.1px -116.1px,-136.2px -119.9px,-135.3px -123.5px,-134.3px -127px,-133.2px -130.4px,-132.1px -133.5px,-130.9px -136.5px,-129.6px -139.2px,-128.3px -141.8px,-126.9px -144.2px,-125.5px -146.4px,-124px -148.3px,-122.4px -150.1px,-120.8px -151.7px,-119.2px -153.1px,-117.5px -154.3px,-115.8px -155.3px,-114.1px -156.1px,-112.3px -156.8px,-110.5px -157.3px,-108.7px -157.7px,-106.9px -157.9px,-105px -157.9px,-103.1px -157.9px,-101.2px -157.7px,-99.3px -157.4px,-97.4px -157px,-95.5px -156.5px,-93.6px -155.9px,-91.6px -155.3px,-89.7px -154.6px,-87.7px -153.8px,-85.7px -153px,-83.8px -152.1px,-81.8px -151.2px,-79.9px -150.3px,-77.9px -149.3px,-76px -148.3px,-74.1px -147.3px,-72.1px -146.2px,-70.2px -145.1px,-68.3px -144px,-66.5px -142.9px,-64.6px -141.8px,-62.7px -140.7px,-60.9px -139.6px,-59.1px -138.4px,-57.3px -137.3px,-55.5px -136.1px,-53.7px -134.9px,-51.9px -133.7px,-50.1px -132.5px,-48.3px -131.2px,-46.6px -130px,-44.8px -128.7px,-43px -127.4px,-41.3px -126.1px,-39.5px -124.8px,-37.8px -123.5px,-36px -122.2px,-34.3px -120.8px,-32.5px -119.5px,-30.8px -118.1px,-29.1px -116.7px,-27.3px -115.3px,-25.6px -113.9px,-23.8px -112.5px,-22.1px -111px,-20.4px -109.6px,-18.7px -108.1px,-16.9px -106.7px,-15.2px -105.2px,-13.5px -103.7px,-11.8px -102.2px,-10px -100.7px,-8.3px -99.2px,-6.6px -97.7px,-4.9px -96.2px,-3.2px -94.6px,-1.5px -93.1px,.2px -91.5px,1.9px -90px,3.6px -88.4px,5.4px -86.9px,7.1px -85.3px,8.8px -83.7px,10.5px -82.1px,12.2px -80.5px,13.9px -78.9px,15.6px -77.3px,17.3px -75.7px,19px -74.1px,20.8px -72.5px,22.5px -70.9px,24.2px -69.3px,25.9px -67.6px,27.6px -66px,29.3px -64.4px,31px -62.7px,32.8px -61.1px,34.5px -59.4px,36.2px -57.8px,37.9px -56.2px,39.6px -54.5px,41.3px -52.8px,43px -51.2px,44.7px -49.5px,46.4px -47.9px,48.1px -46.2px,49.8px -44.6px,51.5px -42.9px,53.2px -41.3px,54.9px -39.6px,56.6px -37.9px,58.3px -36.3px,60px -34.6px,61.7px -33px,63.4px -31.3px,65.1px -29.7px,66.8px -28px,68.5px -26.4px,70.2px -24.7px,71.9px -23.1px,73.5px -21.4px,75.2px -19.8px,76.9px -18.2px,78.5px -16.5px,80.2px -14.9px,81.8px -13.3px,83.5px -11.6px,85.1px -10px,86.8px -8.4px,88.4px -6.8px,90px -5.2px,91.7px -3.6px,93.3px -2px,94.9px -.4px,96.5px 1.2px,98.1px 2.8px,99.7px 4.3px,101.3px 5.9px,102.9px 7.5px,104.4px 9px,106px 10.6px,107.6px 12.1px,109.1px 13.7px,110.7px 15.2px,112.2px 16.7px,113.8px 18.2px,115.3px 19.7px,116.8px 21.2px,118.3px 22.7px,119.8px 24.1px,121.3px 25.6px,122.7px 27.1px,124.2px 28.5px,125.7px 29.9px,127.1px 31.3px,128.5px 32.8px,130px 34.1px,131.4px 35.5px,132.8px 36.9px,134.2px 38.3px,135.5px 39.6px,136.9px 41px,138.2px 42.3px,139.6px 43.6px,140.9px 44.9px,142.2px 46.2px,143.4px 47.5px,144.7px 48.7px,145.9px 49.9px,147.1px 51.1px,148.3px 52.3px,149.5px 53.5px,150.7px 54.6px,151.8px 55.7px,153px 56.9px,154.1px 58px,155.2px 59px,156.3px 60.1px,157.4px 61.2px,158.4px 62.2px,159.5px 63.3px,160.5px 64.3px,161.6px 65.3px,162.6px 66.3px,163.6px 67.3px,164.6px 68.3px,165.5px 69.2px,166.5px 70.2px,167.4px 71.1px,168.3px 72px,169.2px 72.8px,170.1px 73.7px,170.9px 74.5px,171.8px 75.3px,172.6px 76.1px,173.4px 76.9px,174.2px 77.7px,174.9px 78.4px,175.7px 79.2px,176.4px 79.9px,177.2px 80.6px,177.9px 81.3px,178.6px 82px,179.3px 82.7px,179.9px 83.4px,180.6px 84px,181.2px 84.6px,181.8px 85.2px,182.4px 85.9px,183px 86.4px,183.6px 87px,184.2px 87.6px,184.7px 88.1px,185.3px 88.7px,185.8px 89.2px,186.3px 89.7px,186.8px 90.2px,187.3px 90.7px,187.8px 91.2px,188.3px 91.6px,188.7px 92.1px,189.2px 92.5px,189.6px 92.9px,190.1px 93.4px,190.5px 93.8px,190.9px 94.2px,191.3px 94.6px,191.7px 95px,192.1px 95.3px,192.5px 95.7px,192.8px 96.1px,193.2px 96.4px,193.5px 96.8px,193.9px 97.1px,194.2px 97.5px,194.6px 97.8px,194.9px 98.1px,195.2px 98.4px,195.5px 98.7px,195.8px 99.1px,196.1px 99.4px,196.4px 99.7px,196.7px 99.9px,197px 100.2px,197.3px 100.5px,197.6px 100.8px,197.9px 101.1px,198.1px 101.3px,198.4px 101.6px,198.7px 101.8px,198.9px 102.1px,199.2px 102.3px,199.4px 102.6px,199.6px 102.8px,199.9px 103px,200.1px 103.3px,200.3px 103.5px,200.5px 103.7px,200.8px 103.9px,201px 104.1px,201.2px 104.3px,201.4px 104.5px,201.6px 104.7px,201.8px 104.9px,201.9px 105.1px,202.1px 105.2px,202.5px 105.6px,202.8px 105.9px,203.1px 106.2px,203.4px 106.5px,203.6px 106.7px,203.9px 107px,204.1px 107.2px,204.4px 107.5px,204.6px 107.7px,204.8px 107.9px,205px 108.1px,205.3px 108.3px,205.5px 108.6px,205.7px 108.8px,205.9px 109px,206.1px 109.2px,206.3px 109.4px,206.5px 109.6px,206.7px 109.7px,206.9px 110px,207.2px 110.2px,207.3px 110.4px,207.6px 110.6px,207.8px 110.8px,208px 111px,208.1px 111.1px)"><i style="background:linear-gradient(90deg,#5bff67 0%,#92ff59 7.6%,#d9ff3c 19.5%,#fbff22 25.7%,#fff915 27.6%,#fff40b 28.6%,#fff100 29%,#ffca00 39.5%,#ffb800 46.7%)"></i><i style="background:linear-gradient(90deg,#5dff68 0%,#9dff58 9%,#e0ff3b 20.5%,#ffff23 26.2%,#fff00c 29%,#ffeb00 30%,#ffc600 40.5%,#ffb500 47.1%)"></i><i style="background:linear-gradient(90deg,#5eff6a 0%,#9bff5b 8.6%,#e4ff3c 21%,#fffd26 26.2%,#ffec0e 29.5%,#ffe800 30.5%,#ffc600 40%,#ffb300 47.6%)"></i><i style="background:linear-gradient(90deg,#60ff6b 0%,#9fff5c 9%,#e8ff3d 21.4%,#fffe2c 25.7%,#ffe80f 30%,#ffe400 31%,#ffbf00 41.9%,#ffb100 48.1%)"></i><i style="background:linear-gradient(90deg,#61ff6d 0%,#a4ff5d 9.5%,#efff3c 22.4%,#ffff31 25.2%,#ffe510 30.5%,#ffe102 31.4%,#ffbe00 41.9%,#ffaf00 48.6%)"></i><i style="background:linear-gradient(90deg,#62ff6e 0%,#9fff60 8.6%,#e8ff43 21%,#fffe34 25.2%,#ffe111 31%,#ffdb00 32.4%,#ffb800 43.8%,#ffad00 49%)"></i><i style="background:linear-gradient(90deg,#64ff70 0%,#a3ff61 9%,#edff44 21.4%,#ffff39 24.8%,#ffde12 31.4%,#ffd800 32.9%,#ffb800 43.3%,#fa0 49.5%)"></i><i style="background:linear-gradient(90deg,#65ff72 0%,#aeff60 10.5%,#f6ff42 22.9%,#fffd3b 24.8%,#ffda13 31.9%,#ffd60a 32.9%,#ffd400 33.3%,#ffb000 46.2%,#ffa800 50%)"></i><i style="background:linear-gradient(90deg,#66ff73 0%,#a3ff65 8.6%,#f5ff46 22.4%,#fffb3d 24.8%,#ffd714 32.4%,#ffd000 34.3%,#ffb200 44.8%,#ffa600 50.5%)"></i><i style="background:linear-gradient(90deg,#68ff75 0%,#a7ff66 9%,#f7ff48 22.4%,#fffc41 24.3%,#ffd415 32.9%,#fc0 34.8%,#ffa800 48.6%,#ffa400 51%)"></i><i style="background:linear-gradient(90deg,#69ff76 0%,#acff67 9.5%,#fbff49 22.9%,#fff53f 25.2%,#ffcf12 33.8%,#ffc900 35.2%,#ffa700 48.6%,#ffa200 51.4%)"></i><i style="background:linear-gradient(90deg,#6bff78 0%,#b0ff68 10%,#fdff4b 22.9%,#ffcf19 33.3%,#ffc80a 35.2%,#ffc600 35.7%,#ffa500 49%,#ffa000 51.9%)"></i><i style="background:linear-gradient(90deg,#6cff79 0%,#b5ff69 10.5%,#ffff4d 22.9%,#ffd122 32.4%,#ffc50b 35.7%,#ffc200 36.7%,#ffa400 49%,#ff9e00 52.4%)"></i><i style="background:linear-gradient(90deg,#6dff7b 0%,#adff6d 9%,#fdff51 22.4%,#ffcc1f 33.3%,#ffc20c 36.2%,#ffbf00 37.1%,#ffa200 49.5%,#ff9c00 52.9%)"></i><i style="background:linear-gradient(90deg,#6fff7c 0%,#b4ff6d 10%,#ffff53 22.4%,#ffd52d 31%,#ffc111 36.2%,#ffbc00 37.6%,#ff9a00 52.9%,#ff9a00 53.3%)"></i><i style="background:linear-gradient(90deg,#70ff7e 0%,#b9ff6e 10.5%,#fffd55 22.4%,#ffcd29 32.4%,#ffbc0e 37.1%,#ffb901 38.1%,#ff9b00 51.4%,#ff9800 53.8%)"></i><i style="background:linear-gradient(90deg,#72ff80 0%,#c0ff6e 11.4%,#fffe58 21.9%,#ffd232 31%,#ffbb13 37.1%,#ffb500 39%,#ff9500 54.3%)"></i><i style="background:linear-gradient(90deg,#73ff81 0%,#c2ff70 11.4%,#ffff5c 21.4%,#ffce32 31.4%,#ffb610 38.1%,#ffb200 39.5%,#ff9300 54.8%)"></i><i style="background:linear-gradient(90deg,#74ff83 0%,#b4ff76 9%,#fffe5e 21.4%,#ffd33a 30%,#ffb514 38.1%,#ffb109 39.5%,#ffaf00 40%,#ff9100 55.2%)"></i><i style="background:linear-gradient(90deg,#76ff84 0%,#c5ff74 11.4%,#ffff61 21%,#ffd43d 29.5%,#ffb315 38.6%,#ffab00 41%,#ff9000 55.7%)"></i><i style="background:linear-gradient(90deg,#77ff86 0%,#c0ff77 10.5%,#fffd63 21%,#ffd03d 30%,#ffae13 39.5%,#ffa900 41.4%,#ff8e00 56.2%)"></i><i style="background:linear-gradient(90deg,#79ff87 0%,#cbff77 11.9%,#fffe66 20.5%,#ffd343 29%,#ffad16 39.5%,#ffa707 41.4%,#ffa600 41.9%,#ff8c00 56.7%)"></i><i style="background:linear-gradient(90deg,#7aff89 0%,#c3ff7b 10.5%,#ffff6a 20%,#ffd144 29%,#ffa914 40.5%,#ffa509 41.9%,#ffa400 42.4%,#ff8a00 57.1%)"></i><i style="background:linear-gradient(90deg,#7cff8b 0%,#d1ff7a 12.4%,#fffd6b 20%,#ffce44 29.5%,#ffa817 40.5%,#ffa20a 42.4%,#ffa000 43.3%,#f80 57.6%)"></i><i style="background:linear-gradient(90deg,#7dff8c 0%,#d0ff7c 11.9%,#fffe6e 19.5%,#ffce47 29%,#ffa518 41%,#ff9f06 43.3%,#ff9d00 43.8%,#ff8600 58.1%)"></i><i style="background:linear-gradient(90deg,#7fff8e 0%,#d4ff7d 12.4%,#fffd70 19.5%,#ffd34e 27.6%,#ffa71f 40%,#ff9c08 43.8%,#ff9b00 44.3%,#ff8400 58.6%)"></i><i style="background:linear-gradient(90deg,#80ff90 0%,#d3ff80 11.9%,#fffe73 19%,#ffd451 27.1%,#ffaa27 38.6%,#ff9c11 43.3%,#ff9a09 44.3%,#ff9901 44.8%,#ff8200 59%)"></i><i style="background:linear-gradient(90deg,#82ff91 0%,#e1ff7f 13.8%,#ff7 18.6%,#ffd253 27.1%,#ffa626 39.5%,#ff990e 44.3%,#ff9500 45.7%,#ff8000 59.5%)"></i><i style="background:linear-gradient(90deg,#83ff93 0%,#d6ff84 11.9%,#fffd78 18.6%,#ffd356 26.7%,#ffa92d 38.1%,#ff960f 44.8%,#ff9300 46.2%,#ff7e00 60%)"></i><i style="background:linear-gradient(90deg,#85ff95 0%,#e4ff83 13.8%,#fffe7b 18.1%,#ffcf55 27.1%,#ffa228 40%,#ff9410 45.2%,#ff9108 46.2%,#ff9000 46.7%,#ff7c00 60.5%)"></i><i style="background:linear-gradient(90deg,#86ff96 0%,#e3ff85 13.3%,#ffff7e 17.6%,#ffd058 26.7%,#ffa52f 38.6%,#ff9313 45.2%,#ff8d00 47.6%,#ff7a00 61%)"></i><i style="background:linear-gradient(90deg,#88ff98 0%,#ebff86 14.3%,#fffe80 17.6%,#ffd25d 25.7%,#ffa532 38.1%,#ff9014 45.7%,#ff8b00 48.1%,#ff7800 61.4%)"></i><i style="background:linear-gradient(90deg,#89ff9a 0%,#e6ff89 13.3%,#ffff83 17.1%,#ffd360 25.2%,#ffa737 37.1%,#ff8d12 46.7%,#f80 48.6%,#f70 61.9%)"></i><i style="background:linear-gradient(90deg,#8bff9b 0%,#f8ff88 15.7%,#fffa82 17.6%,#ffcb5c 26.7%,#ffa032 39%,#ff8b12 47.1%,#ff8708 48.6%,#ff8600 49%,#ff7500 62.4%)"></i><i style="background:linear-gradient(90deg,#8cff9d 0%,#eaff8d 13.3%,#fffe88 16.7%,#ffd264 24.8%,#ffa43a 37.1%,#ff8a15 47.1%,#ff8300 50%,#ff7300 62.9%)"></i><i style="background:linear-gradient(90deg,#8eff9f 0%,#f5ff8d 14.8%,#fffc89 16.7%,#ffcc62 25.7%,#ff9f37 38.6%,#ff8716 47.6%,#ff8206 50%,#ff8100 50.5%,#ff7100 63.3%)"></i><i style="background:linear-gradient(90deg,#8fffa0 0%,#e7ff92 12.4%,#fffd8c 16.2%,#ffcb63 25.7%,#ffa23d 37.1%,#ff8414 48.6%,#ff8007 50.5%,#ff7f00 51%,#ff6f00 63.8%)"></i><i style="background:linear-gradient(90deg,#91ffa2 0%,#f9ff91 14.8%,#ffff8f 15.7%,#ffd46d 23.3%,#ffa846 34.8%,#ff8317 48.6%,#ff7d08 51%,#ff7c01 51.4%,#ff6d00 64.3%)"></i><i style="background:linear-gradient(90deg,#92ffa4 0%,#f8ff94 14.3%,#fffa8e 16.2%,#ffce6b 24.3%,#ff9f40 37.1%,#ff7e13 50%,#ff7a00 52.4%,#ff6b00 64.8%)"></i><i style="background:linear-gradient(90deg,#94ffa6 0%,#fdff95 14.8%,#ffcd6c 24.3%,#ffa447 35.2%,#ff7e18 49.5%,#ff7806 52.4%,#f70 52.9%,#ff6a00 65.2%)"></i><i style="background:linear-gradient(90deg,#96ffa7 0%,#ffff97 14.8%,#ffd474 22.4%,#ffaa50 32.9%,#ff7b16 50.5%,#ff7607 52.9%,#ff7500 53.3%,#ff6800 65.7%)"></i><i style="background:linear-gradient(90deg,#97ffa9 0%,#feff9a 14.3%,#ffce72 23.3%,#ffa149 35.2%,#ff7a18 50.5%,#ff7409 53.3%,#ff7200 54.3%,#f60 66.2%)"></i><i style="background:linear-gradient(90deg,#99ffab 0%,#fffe9c 14.3%,#ffd378 21.9%,#ffa953 32.4%,#ff7c20 49%,#ff720a 53.8%,#ff7000 54.8%,#ff6400 66.7%)"></i><i style="background:linear-gradient(90deg,#9affad 0%,#feff9f 13.8%,#ffcf77 22.4%,#ffa350 33.8%,#ff771b 51%,#ff700b 54.3%,#ff6e00 55.2%,#ff6200 67.1%)"></i><i style="background:linear-gradient(90deg,#9cffaf 0%,#fdffa1 13.3%,#ffcb76 22.9%,#ff9f4e 34.8%,#ff7419 51.9%,#ff6d08 55.2%,#ff6c00 55.7%,#ff6000 67.6%)"></i><i style="background:linear-gradient(90deg,#9effb1 0%,#ffffa3 13.3%,#ffd07d 21.4%,#ffa254 33.3%,#f72 50%,#ff6c0c 55.2%,#ff6900 56.7%,#ff5e00 68.1%)"></i><i style="background:linear-gradient(90deg,#9fffb2 0%,#feffa6 12.9%,#ffca7a 22.4%,#ff9c51 34.8%,#ff6e18 53.3%,#ff690a 56.2%,#ff6700 57.1%,#ff5d00 68.6%)"></i><i style="background:linear-gradient(90deg,#a1ffb4 0%,#fffea8 12.9%,#ffcf81 21%,#ffa157 32.9%,#ff7223 51%,#ff670b 56.7%,#ff6500 57.6%,#ff5b00 69%)"></i><i style="background:linear-gradient(90deg,#a3ffb6 0%,#ffffab 12.4%,#ffd084 20.5%,#ffa45d 31.4%,#ff752a 49%,#f61 56.2%,#ff6408 57.6%,#ff6301 58.1%,#ff5900 69.5%)"></i><i style="background:linear-gradient(90deg,#a4ffb8 0%,#fffdac 12.4%,#ffcc82 21%,#ff9e59 32.9%,#ff7026 51%,#ff630f 57.1%,#ff6000 59%,#ff5700 70.5%)"></i><i style="background:linear-gradient(90deg,#a6ffba 0%,#ffffb0 11.9%,#ffd189 19.5%,#ffa360 31%,#ff7631 47.6%,#ff6110 57.6%,#ff5e00 59.5%,#f50 71%)"></i><i style="background:linear-gradient(90deg,#a8ffbc 0%,#feffb2 11.4%,#ffcd88 20%,#ffa060 31.4%,#ff7330 48.6%,#ff6012 57.6%,#ff5d07 59.5%,#ff5c00 60%,#ff5300 71.4%)"></i><i style="background:linear-gradient(90deg,#aaffbe 0%,#fffeb4 11.4%,#ffd08d 19%,#ffa264 30.5%,#ff7636 46.7%,#ff5e13 58.1%,#ff5900 61%,#ff5100 71.9%)"></i><i style="background:linear-gradient(90deg,#abffc0 0%,#ffffb7 11%,#ffd190 18.6%,#ffa76b 28.6%,#ff793d 44.8%,#ff5d15 58.1%,#ff5805 61%,#ff5700 61.9%,#ff4f00 72.4%)"></i><i style="background:linear-gradient(90deg,#adffc2 0%,#fffdb8 11%,#ffcf91 18.6%,#ff9f65 30.5%,#ff7439 46.7%,#ff5a14 59%,#ff5606 61.4%,#f50 61.9%,#ff4d00 72.9%)"></i><i style="background:linear-gradient(90deg,#afffc4 0%,#ffffbc 10.5%,#ffd296 17.6%,#ffa46c 28.6%,#ff7840 44.3%,#ff5916 59%,#ff5407 61.9%,#ff5300 62.4%,#ff4b00 73.3%)"></i><i style="background:linear-gradient(90deg,#b1ffc6 0%,#feffbf 10%,#ffce94 18.1%,#ffa16c 29%,#ff7741 44.3%,#ff5818 59%,#ff5108 62.4%,#ff5000 63.3%,#ff4900 73.8%)"></i><i style="background:linear-gradient(90deg,#b3ffc8 0%,#fffec0 10%,#ffd199 17.1%,#ffa370 28.1%,#ff7845 43.3%,#ff5517 60%,#ff4f05 63.3%,#ff4e00 64.3%,#ff4700 74.3%)"></i><i style="background:linear-gradient(90deg,#b4ffca 0%,#ffffc4 9.5%,#ffd29c 16.7%,#ffa877 26.2%,#ff7b4b 41.4%,#ff5317 60.5%,#ff4c06 63.8%,#ff4c00 64.3%,#ff4500 74.8%)"></i><i style="background:linear-gradient(90deg,#b6ffcc 0%,#fffdc4 9.5%,#ffd09d 16.7%,#ffa071 28.1%,#ff7243 44.8%,#ff5119 60.5%,#ff4a07 64.3%,#ff4900 65.2%,#ff4300 75.2%)"></i><i style="background:linear-gradient(90deg,#b8ffce 0%,#fffec8 9%,#ffce9e 16.7%,#ffa275 27.1%,#ff7448 43.3%,#ff4e18 61.4%,#ff4704 65.2%,#ff4700 66.2%,#ff4100 75.7%)"></i><i style="background:linear-gradient(90deg,#baffd0 0%,#feffcb 8.6%,#ffcfa1 16.2%,#ffa176 27.1%,#ff754b 42.4%,#ff4c18 61.9%,#ff4609 65.2%,#ff4500 66.2%,#ff3f00 76.2%)"></i><i style="background:linear-gradient(90deg,#bcffd2 0%,#fffdcc 8.6%,#ffcda1 16.2%,#ff9f77 27.1%,#ff734b 42.9%,#ff4b1a 61.9%,#ff4307 66.2%,#ff4200 66.7%,#ff3d00 76.7%)"></i><i style="background:linear-gradient(90deg,#beffd5 0%,#ffffd0 8.1%,#ffd3a9 14.8%,#ffa680 24.8%,#ff7b56 39%,#ff4e21 60%,#ff420b 66.2%,#ff4000 67.6%,#ff3b00 77.1%)"></i><i style="background:linear-gradient(90deg,#c0ffd7 0%,#feffd3 7.6%,#ffcca5 15.7%,#ff9e7a 26.7%,#ff704d 42.9%,#ff4619 63.3%,#ff3f09 67.1%,#ff3d00 68.1%,#ff3900 77.6%)"></i><i style="background:linear-gradient(90deg,#c2ffd9 0%,#fffed5 7.6%,#ffcfaa 14.8%,#ffa381 24.8%,#ff7655 40%,#ff4318 64.3%,#ff3c06 68.1%,#ff3b00 68.6%,#ff3700 78.1%)"></i><i style="background:linear-gradient(90deg,#c4ffdb 0%,#feffd8 7.1%,#ffd0ad 14.3%,#ff9e7f 25.7%,#ff7051 41.9%,#ff4118 64.8%,#ff3a07 68.6%,#ff3900 69%,#ff3400 78.6%)"></i><i style="background:linear-gradient(90deg,#c6ffdd 0%,#fffdd9 7.1%,#ffceae 14.3%,#ffa284 24.3%,#ff775a 38.6%,#ff3f1a 64.8%,#ff3708 69%,#ff3600 70%,#ff3200 79%)"></i><i style="background:linear-gradient(90deg,#c8ffe0 0%,#ffd 6.7%,#ffd4b6 12.9%,#ffaa8e 21.9%,#ff8167 34.3%,#ff5135 54.8%,#ff3912 67.6%,#ff3405 70%,#f30 71%,#ff3000 79.5%)"></i><i style="background:linear-gradient(90deg,#caffe2 0%,#feffe0 6.2%,#ffcdb2 13.8%,#ff9d84 24.8%,#ff725a 39.5%,#ff3a19 66.2%,#ff3309 70%,#ff3100 71%,#ff2d00 80%)"></i><i style="background:linear-gradient(90deg,#ccffe4 0%,#fffee1 6.2%,#ffd3ba 12.4%,#ffaa93 21%,#ff7e68 34.3%,#ff4a32 57.1%,#f31 69%,#ff2f07 71%,#ff2e00 71.9%,#ff2b00 80.5%)"></i><i style="background:linear-gradient(90deg,#ceffe7 0%,#ffffe5 5.7%,#ffd1ba 12.4%,#ffa590 21.9%,#ff7965 35.7%,#ff442d 59.5%,#ff3011 69.5%,#ff2b00 72.9%,#ff2800 81%)"></i><i style="background:linear-gradient(90deg,#d1ffe9 0%,#fffde6 5.7%,#ffd2bd 11.9%,#ffa592 21.4%,#ff7563 36.7%,#ff3822 64.8%,#ff2b0c 71.4%,#ff2800 72.9%,#ff2600 81.4%)"></i><i style="background:linear-gradient(90deg,#d3ffec 0%,#fffeea 5.2%,#ffcdbb 12.4%,#ffa291 21.9%,#ff7565 36.2%,#ff3723 64.8%,#ff280c 71.9%,#ff2500 73.3%,#ff2300 81.9%)"></i><i style="background:linear-gradient(90deg,#d5ffee 0%,#feffed 4.8%,#ffcebe 11.9%,#ffa294 21.4%,#ff776a 34.8%,#ff3828 63.3%,#ff260d 72.4%,#f20 74.3%,#ff2000 82.4%)"></i><i style="background:linear-gradient(90deg,#d7fff1 0%,#fffeee 4.8%,#ffd5c7 10.5%,#ffaea1 18.1%,#ff8378 30%,#ff5044 51%,#ff2918 70%,#ff2008 73.8%,#ff1f00 74.8%,#ff1d00 82.9%)"></i><i style="background:linear-gradient(90deg,#d9fff3 0%,#fffff3 4.3%,#ffd5ca 10%,#ffa69c 19.5%,#ff7b72 32.4%,#ff483e 54.3%,#ff2415 71.4%,#ff1c05 74.8%,#ff1b00 75.7%,#ff1900 83.3%)"></i><i style="background:linear-gradient(90deg,#dcfff6 0%,#fffdf3 4.3%,#ffd3cb 10%,#ffaca5 17.6%,#ff837c 29%,#ff4e47 50.5%,#ff2217 71.4%,#ff1806 75.2%,#ff1700 75.7%,#ff1500 83.8%)"></i><i style="background:linear-gradient(90deg,#defff8 0%,#fffef7 3.8%,#ffd1cb 10%,#ffa7a1 18.6%,#ff7f7a 30%,#ff4c47 51%,#ff1e16 72.4%,#ff1407 75.7%,#ff1200 77.1%,#f10 84.3%)"></i><i style="background:linear-gradient(90deg,#e0fffb 0%,#fefffb 3.3%,#ffcfcc 10%,#ffa5a2 18.6%,#ff7b78 31%,#ff4d4a 50%,#ff1d19 71.9%,#ff0e05 76.7%,#ff0c00 77.6%,#ff0c00 84.8%)"></i><i style="background:linear-gradient(90deg,#e3fffe 0%,#fffdfc 3.3%,#ffd0cf 9.5%,#ffa3a2 18.6%,#ff7877 31.4%,#ff4040 55.2%,#ff1716 73.3%,#ff0606 77.1%,#ff0200 77.6%,#ff0001 85.2%)"></i><i style="background:linear-gradient(90deg,#e4feff 0%,#fefeff 2.9%,#ffcecf 9.5%,#ffa4a5 18.1%,#ff7c7d 29.5%,#ff494b 50.5%,#ff171b 72.4%,#ff070e 76.2%,#ff000c 77.1%,#ff000c 85.7%)"></i><i style="background:linear-gradient(90deg,#e4fbff 0%,#fefbff 2.9%,#ffc6ca 10.5%,#ff9a9e 20%,#ff6d71 34.3%,#ff2d32 62.9%,#ff0f18 73.8%,#ff0012 76.7%,#f01 86.2%)"></i><i style="background:linear-gradient(90deg,#e4f8ff 0%,#fff6fd 3.3%,#ffcdd3 9%,#ffa2a8 17.6%,#ff767c 30.5%,#ff4046 53.3%,#ff1621 71%,#ff0417 74.8%,#ff0016 75.7%,#ff0015 86.7%)"></i><i style="background:linear-gradient(90deg,#e4f6ff 0%,#fff3fd 3.3%,#ffcbd4 9%,#ffa4ad 16.7%,#ff7a82 28.6%,#ff474f 49.5%,#ff1826 69.5%,#ff081d 73.3%,#ff001b 74.3%,#ff0019 87.1%)"></i><i style="background:linear-gradient(90deg,#e4f3ff 0%,#fdf3ff 2.9%,#ffc0cc 10.5%,#ff99a3 19%,#ff6973 34.3%,#ff2331 64.8%,#ff0c21 71.9%,#ff001e 73.3%,#ff001c 87.6%)"></i><i style="background:linear-gradient(90deg,#e4f0ff 0%,#ffeefd 3.3%,#ffc4d2 9.5%,#ff9fac 17.1%,#ff7682 29%,#ff4754 48.1%,#ff162a 68.6%,#ff0623 71.9%,#f02 72.4%,#ff001e 88.1%)"></i><i style="background:linear-gradient(90deg,#e4eeff 0%,#ffebfd 3.3%,#ffbfcf 10%,#ff96a5 19%,#ff6e7c 31.4%,#ff3b4b 52.9%,#ff132b 68.6%,#ff0726 71%,#ff0025 71.9%,#ff0021 88.6%)"></i><i style="background:linear-gradient(90deg,#e4ebff 0%,#ffe9fe 3.3%,#ffc0d2 9.5%,#ff98a9 18.1%,#ff6f7f 30.5%,#ff3749 53.8%,#ff132e 67.6%,#ff0829 70%,#ff0028 71%,#ff0023 89%)"></i><i style="background:linear-gradient(90deg,#e4e9ff 0%,#ffe6fe 3.3%,#ffbed3 9.5%,#ff96a9 18.1%,#ff6c7f 31%,#ff3c50 51%,#ff1532 66.2%,#ff042b 69.5%,#ff002b 70.5%,#ff0026 89.5%)"></i><i style="background:linear-gradient(90deg,#e4e6ff 0%,#ffe4fe 3.3%,#ffb9d0 10%,#ff8da2 20%,#ff6075 34.8%,#ff1937 64.3%,#ff092f 68.1%,#ff002e 69%,#ff0028 90%)"></i><i style="background:linear-gradient(90deg,#e4e4ff 0%,#ffe2fe 3.3%,#ffbcd6 9%,#ff92aa 18.1%,#ff667d 31.9%,#ff304a 54.8%,#ff1035 65.7%,#ff0631 67.6%,#ff0030 68.1%,#ff002a 90.5%)"></i><i style="background:linear-gradient(90deg,#e4e1ff 0%,#ffdffe 3.3%,#ffb5d1 10%,#ff8ba5 19.5%,#ff617a 33.3%,#ff2342 59%,#ff0c36 65.7%,#f03 67.1%,#ff002b 91%)"></i><i style="background:linear-gradient(90deg,#e4deff 0%,#fdf 3.3%,#ffb6d4 9.5%,#ff8ba8 19%,#ff627d 32.4%,#ff1e41 60%,#ff0a38 65.2%,#ff0035 66.7%,#ff002d 91.4%)"></i><i style="background:linear-gradient(90deg,#e4dcff 0%,#ffdaff 3.3%,#ffb1d2 10%,#ff88a6 19.5%,#ff5b79 34.3%,#ff2649 56.2%,#ff103c 63.3%,#ff0038 65.7%,#ff002f 91.9%)"></i><i style="background:linear-gradient(90deg,#e4d9ff 0%,#ffd8ff 3.3%,#ffafd2 10%,#ff83a3 20.5%,#ff5676 35.7%,#ff1943 60%,#ff083c 63.8%,#ff003b 64.8%,#ff0031 92.4%)"></i><i style="background:linear-gradient(90deg,#e4d7ff 0%,#ffd5ff 3.3%,#ffabd0 10.5%,#ff81a4 20.5%,#ff5779 34.8%,#ff1845 59.5%,#ff053e 63.3%,#ff003d 64.3%,#ff0032 92.9%)"></i><i style="background:linear-gradient(90deg,#e4d5ff 0%,#ffd3ff 3.3%,#ffabd3 10%,#ff81a6 20%,#ff5478 35.2%,#ff1a48 58.1%,#ff0640 62.4%,#ff0040 62.9%,#ff0034 93.3%)"></i><i style="background:linear-gradient(90deg,#e4d2ff 0%,#ffd0ff 3.3%,#ffa4ce 11%,#ff779e 22.4%,#ff4b72 38.1%,#ff1749 58.1%,#ff0643 61.4%,#ff0042 61.9%,#ff0035 93.8%)"></i><i style="background:linear-gradient(90deg,#e4d0ff 0%,#feceff 3.3%,#ffa2cf 11%,#ff7ca5 20.5%,#ff4f77 36.2%,#ff194c 56.7%,#ff0745 60.5%,#f04 61.4%,#ff0036 94.3%)"></i><i style="background:linear-gradient(90deg,#e4cdff 0%,#fecbff 3.3%,#ffa0cf 11%,#ff749f 22.4%,#ff4772 38.6%,#ff184e 56.2%,#ff0848 59.5%,#ff0046 60.5%,#ff0038 94.8%)"></i><i style="background:linear-gradient(90deg,#e4cbff 0%,#fec9ff 3.3%,#ffa1d2 10.5%,#ff79a6 20.5%,#ff4a77 36.7%,#ff1850 55.2%,#ff094a 58.6%,#ff0049 59.5%,#ff0039 95.2%)"></i><i style="background:linear-gradient(90deg,#e4c8ff 0%,#fec6ff 3.3%,#ff98cb 11.9%,#ff6e9d 23.3%,#ff4171 39.5%,#ff1551 55.2%,#ff054c 58.1%,#ff004b 59%,#ff003a 95.7%)"></i><i style="background:linear-gradient(90deg,#e4c6ff 0%,#ffc1fd 3.8%,#ff9ad0 11%,#ff70a2 21.9%,#ff4375 38.1%,#ff1754 53.8%,#ff064e 57.1%,#ff004d 57.6%,#ff003b 96.2%)"></i><i style="background:linear-gradient(90deg,#e4c4ff 0%,#ffbffd 3.8%,#ff9bd3 10.5%,#ff70a5 21.4%,#ff477b 35.7%,#ff1656 53.3%,#ff0751 56.2%,#ff0050 56.7%,#ff003d 95.7%,#ff003d 96.7%)"></i><i style="background:linear-gradient(90deg,#e4c1ff 0%,#ffbdfd 3.8%,#ff96d1 11%,#ff6da3 21.9%,#ff3e75 38.6%,#ff1658 52.4%,#ff0753 55.2%,#ff0052 55.7%,#ff003e 96.7%,#ff003e 97.1%)"></i><i style="background:linear-gradient(90deg,#e4bfff 0%,#ffbafd 3.8%,#ff92cf 11.4%,#ff6ea7 21%,#ff427b 36.2%,#ff175b 51.4%,#ff0855 54.3%,#ff0054 55.2%,#ff0040 94.8%,#ff003f 97.6%)"></i><i style="background:linear-gradient(90deg,#e4bcff 0%,#ffb8fd 3.8%,#ff90cf 11.4%,#ff66a1 22.9%,#ff3874 39.5%,#ff115b 51.9%,#ff0056 54.3%,#ff0042 92.9%,#ff0040 98.1%)"></i><i style="background:linear-gradient(90deg,#e4baff 0%,#ffb6fe 3.8%,#ff90d2 11%,#ff69a6 21.4%,#ff3b79 37.6%,#ff125d 51%,#ff0059 53.3%,#ff0045 87.6%,#ff0041 98.6%)"></i><i style="background:linear-gradient(90deg,#e4b8ff 0%,#ffb3fe 3.8%,#ff8cd0 11.4%,#ff63a2 22.9%,#ff3475 39.5%,#ff105f 50.5%,#ff005b 52.4%,#ff0046 88.6%,#ff0042 99%)"></i><i style="background:linear-gradient(90deg,#e4b5ff 0%,#ffb1fe 3.8%,#ff8cd3 11%,#ff66a7 21.4%,#ff3679 38.1%,#ff1563 48.6%,#ff075e 51%,#ff005d 51.4%,#ff0048 86.7%,#ff0043 99.5%)"></i><i style="background:linear-gradient(90deg,#e4b3ff 0%,#ffaffe 3.8%,#ff88d1 11.4%,#ff62a6 21.9%,#ff367c 37.1%,#ff1364 48.1%,#ff0861 50%,#ff0060 50.5%,#ff004b 82.4%,#f04 99.5%)"></i><i style="background:linear-gradient(90deg,#e4b1ff 0%,#ffacfe 3.8%,#ff86d1 11.4%,#ff5fa5 22.4%,#ff3079 38.6%,#ff1367 47.1%,#ff0863 49%,#ff0062 50%,#ff004d 81%,#ff0045 99%)"></i><i style="background:linear-gradient(90deg,#e4aeff 0%,#ffaafe 3.8%,#ff82cf 11.9%,#ff5aa2 23.3%,#ff2573 41.4%,#ff0f67 47.1%,#ff0064 49%,#ff004e 81%,#ff0047 97.6%)"></i><i style="background:linear-gradient(90deg,#e4acff 0%,#ffa8ff 3.8%,#ff84d4 11%,#ff5aa4 22.9%,#ff2777 40%,#ff0d69 46.7%,#f06 48.1%,#ff0050 79.5%,#ff0048 96.7%)"></i><i style="background:linear-gradient(90deg,#e4aaff 0%,#ffa5ff 3.8%,#ff84d7 10.5%,#ff5eab 21%,#ff2f7f 36.7%,#ff136d 44.8%,#ff0669 46.7%,#ff0069 47.1%,#ff0053 75.7%,#ff004a 95.7%)"></i><i style="background:linear-gradient(90deg,#e4a7ff 0%,#ffa3ff 3.8%,#ff80d5 11%,#ff5aaa 21.4%,#ff2a7d 37.6%,#ff0e6e 44.8%,#ff006b 46.2%,#ff0054 75.7%,#ff004b 94.8%)"></i><i style="background:linear-gradient(90deg,#e4a5ff 0%,#ffa1ff 3.8%,#ff7cd3 11.4%,#ff55a7 22.4%,#ff247c 38.6%,#ff0c6f 44.3%,#ff006d 45.2%,#ff0056 74.8%,#ff004d 93.8%)"></i><i style="background:linear-gradient(90deg,#e4a3ff 0%,#ff9eff 3.8%,#ff78d1 11.9%,#ff52a6 22.9%,#ff1c79 40%,#ff0971 43.8%,#ff006f 44.8%,#ff0057 74.8%,#ff004e 92.9%)"></i><i style="background:linear-gradient(90deg,#e4a0ff 0%,#ff9cff 3.8%,#ff76d1 11.9%,#ff4ea5 23.3%,#ff1d7c 39%,#ff0973 42.9%,#ff0072 43.8%,#ff005b 70%,#ff0050 91.4%)"></i><i style="background:linear-gradient(90deg,#e49eff 0%,#fe99ff 3.8%,#ff76d4 11.4%,#ff51aa 21.9%,#ff1b7d 38.6%,#ff0a76 41.9%,#ff0074 42.9%,#ff005c 70%,#ff0051 90.5%)"></i><i style="background:linear-gradient(90deg,#e49cff 0%,#fe97ff 3.8%,#ff70d0 12.4%,#ff4aa6 23.3%,#ff187e 38.6%,#ff0677 41.4%,#f07 41.9%,#ff0060 65.7%,#ff0052 89.5%)"></i><i style="background:linear-gradient(90deg,#e499ff 0%,#ff92fd 4.3%,#ff70d2 11.9%,#ff47a5 23.8%,#ff167f 38.1%,#ff077a 40.5%,#ff0079 41%,#ff0060 67.1%,#ff0054 88.6%)"></i><i style="background:linear-gradient(90deg,#e497ff 0%,#ff90fd 4.3%,#ff70d5 11.4%,#ff48a8 22.9%,#ff1782 37.1%,#ff087d 39.5%,#ff007c 40%,#ff0064 63.3%,#f05 87.6%)"></i><i style="background:linear-gradient(90deg,#e495ff 0%,#ff8efd 4.3%,#ff6ad1 12.4%,#ff41a4 24.3%,#ff1584 36.7%,#ff097f 38.6%,#ff007d 39.5%,#ff0064 64.8%,#ff0057 86.7%)"></i><i style="background:linear-gradient(90deg,#e492ff 0%,#ff8bfd 4.3%,#ff68d1 12.4%,#ff40a6 23.8%,#ff1887 35.2%,#ff0a82 37.6%,#ff0080 38.6%,#f06 63.3%,#ff0058 85.2%)"></i><i style="background:linear-gradient(90deg,#e490ff 0%,#ff89fd 4.3%,#ff60cb 13.8%,#ff38a1 25.7%,#ff1187 35.7%,#ff0083 37.6%,#ff006a 59.5%,#ff005a 84.3%)"></i><i style="background:linear-gradient(90deg,#e48eff 0%,#ff86fd 4.3%,#ff61d0 12.9%,#ff3ba7 23.8%,#ff178c 33.8%,#ff0686 36.2%,#ff0085 36.7%,#ff006a 61%,#ff005b 83.3%)"></i><i style="background:linear-gradient(90deg,#e48bff 0%,#ff84fe 4.3%,#ff61d2 12.4%,#ff37a6 24.3%,#ff158d 33.3%,#ff0789 35.2%,#f08 35.7%,#ff006e 57.1%,#ff005d 82.4%)"></i><i style="background:linear-gradient(90deg,#e489ff 0%,#ff82fe 4.3%,#ff5fd2 12.4%,#ff37a8 23.8%,#ff108e 33.3%,#ff088c 34.3%,#ff008a 34.8%,#ff006e 58.1%,#ff005e 81.4%)"></i><i style="background:linear-gradient(90deg,#e487ff 0%,#ff7ffe 4.3%,#ff57cc 13.8%,#ff2aa0 26.7%,#ff1091 32.4%,#ff008c 34.3%,#ff0071 56.2%,#ff0060 80%)"></i><i style="background:linear-gradient(90deg,#e484ff 0%,#ff7dfe 4.3%,#ff58d1 12.9%,#ff30a7 24.3%,#ff0e92 31.9%,#ff008f 33.3%,#ff0073 54.8%,#ff0061 79%)"></i><i style="background:linear-gradient(90deg,#e482ff 0%,#ff7afe 4.3%,#ff54cf 13.3%,#ff29a5 25.2%,#ff1296 30.5%,#ff0092 32.4%,#f07 51.9%,#ff0063 78.1%)"></i><i style="background:linear-gradient(90deg,#e480ff 0%,#ff78fe 4.3%,#ff50cd 13.8%,#ff1ea0 27.1%,#ff0c97 30.5%,#ff0095 31.4%,#ff007a 50%,#ff0064 77.1%)"></i><i style="background:linear-gradient(90deg,#e47dff 0%,#ff75fe 4.3%,#ff4fd0 13.3%,#ff25a7 24.8%,#ff0c9a 29.5%,#ff0097 30.5%,#ff007a 51%,#f06 76.2%)"></i><i style="background:linear-gradient(90deg,#e47bff 0%,#ff73ff 4.3%,#ff4fd2 12.9%,#ff24a9 24.3%,#ff099b 29%,#ff009a 29.5%,#ff007d 49%,#ff0067 75.2%)"></i><i style="background:linear-gradient(90deg,#e478ff 0%,#ff70ff 4.3%,#ff4bd0 13.3%,#ff19a5 25.7%,#ff0a9e 28.1%,#ff009c 29%,#ff0080 47.1%,#ff0069 73.8%)"></i><i style="background:linear-gradient(90deg,#e476ff 0%,#ff6eff 4.3%,#ff4cd5 12.4%,#ff1fab 23.8%,#ff0aa2 27.1%,#ff009f 28.1%,#ff0082 46.2%,#ff006a 72.9%)"></i><i style="background:linear-gradient(90deg,#e474ff 0%,#ff6bff 4.3%,#ff47d3 12.9%,#ff18aa 24.3%,#ff06a3 26.7%,#ff00a2 27.1%,#ff0086 43.8%,#ff006c 71.9%)"></i><i style="background:linear-gradient(90deg,#e471ff 0%,#ff69ff 4.3%,#ff41cf 13.8%,#ff16ac 23.8%,#ff07a6 25.7%,#ff00a5 26.2%,#ff0086 44.3%,#ff006d 71%)"></i><i style="background:linear-gradient(90deg,#e46fff 0%,#f6f 4.3%,#ff42d4 12.9%,#ff17af 22.9%,#ff08aa 24.8%,#ff00a8 25.2%,#ff008b 41.4%,#ff006f 69.5%,#ff006f 70%)"></i><i style="background:linear-gradient(90deg,#e46cff 0%,#ff63ff 4.3%,#ff3bd0 13.8%,#ff17b3 21.9%,#ff09ad 23.8%,#ff00ab 24.3%,#ff008d 40.5%,#ff0072 66.7%,#ff0071 68.6%)"></i><i style="background:linear-gradient(90deg,#e46aff 0%,#ff5efd 4.8%,#ff38d0 13.8%,#ff15b5 21.4%,#ff0ab0 22.9%,#ff02af 23.3%,#ff0090 39%,#ff0073 66.7%,#ff0072 67.6%)"></i><i style="background:linear-gradient(90deg,#e467ff 0%,#ff5cfd 4.8%,#ff35d0 13.8%,#ff13b6 21%,#ff00b1 22.9%,#ff0093 37.6%,#ff0076 63.8%,#ff0074 66.7%)"></i><i style="background:linear-gradient(90deg,#e465ff 0%,#ff59fd 4.8%,#ff34d3 13.3%,#ff16bc 19.5%,#ff06b5 21.4%,#ff00b4 21.9%,#ff0096 36.2%,#ff007a 60%,#ff0075 65.7%)"></i><i style="background:linear-gradient(90deg,#e462ff 0%,#ff56fd 4.8%,#ff2dcf 14.3%,#ff11bc 19.5%,#ff00b7 21%,#ff0096 36.7%,#ff007a 61%,#f07 64.8%)"></i><i style="background:linear-gradient(90deg,#e45fff 0%,#ff53fd 4.8%,#ff29cf 14.3%,#ff11bf 18.6%,#f0b 20%,#ff009a 34.8%,#ff007c 59%,#ff0078 63.8%)"></i><i style="background:linear-gradient(90deg,#e45dff 0%,#ff50fd 4.8%,#ff25d0 14.3%,#ff0ec1 18.1%,#ff00be 19%,#ff009a 35.2%,#ff007d 59%,#ff007a 62.4%)"></i><i style="background:linear-gradient(90deg,#e45aff 0%,#ff4dfe 4.8%,#ff26d4 13.3%,#ff0fc5 17.1%,#ff02c2 18.1%,#ff00a4 30.5%,#ff0087 50%,#ff007c 61.4%)"></i><i style="background:linear-gradient(90deg,#e458ff 0%,#ff4afe 4.8%,#ff20d2 13.8%,#ff0bc7 16.7%,#ff00c4 17.6%,#ff00a4 30.5%,#ff0085 52.4%,#ff007d 60.5%)"></i><i style="background:linear-gradient(90deg,#e455ff 0%,#ff47fe 4.8%,#ff1bd2 13.8%,#ff0ccb 15.7%,#ff00c8 16.7%,#ff00a8 29%,#ff008a 48.6%,#ff007f 59.5%)"></i><i style="background:linear-gradient(90deg,#e452ff 0%,#ff44fe 4.8%,#ff19d5 13.3%,#ff08cd 15.2%,#ff00cb 15.7%,#f0a 28.6%,#ff008d 46.7%,#ff0081 58.6%)"></i><i style="background:linear-gradient(90deg,#e44fff 0%,#ff41fe 4.8%,#ff16d7 12.9%,#ff09d1 14.3%,#ff00cf 14.8%,#ff00ab 28.1%,#ff008b 49%,#ff0082 57.6%)"></i><i style="background:linear-gradient(90deg,#e44cff 0%,#ff3dfe 4.8%,#ff17db 11.9%,#ff0ad5 13.3%,#ff00d3 13.8%,#ff00af 26.7%,#ff0091 44.8%,#ff0084 56.2%)"></i><i style="background:linear-gradient(90deg,#e449ff 0%,#ff3afe 4.8%,#ff14dd 11.4%,#ff0bd9 12.4%,#ff02d7 12.9%,#ff00b3 25.2%,#ff0093 43.8%,#ff0086 55.2%)"></i><i style="background:linear-gradient(90deg,#e446ff 0%,#ff36ff 4.8%,#ff15e2 10.5%,#ff00da 12.4%,#ff00b7 23.8%,#ff0096 41.9%,#f08 54.3%)"></i><i style="background:linear-gradient(90deg,#e443ff 0%,#ff32ff 4.8%,#ff12e4 10%,#ff00de 11.4%,#ff00ba 22.9%,#ff009b 39%,#ff0089 53.3%)"></i><i style="background:linear-gradient(90deg,#e440ff 0%,#ff2eff 4.8%,#ff13e9 9%,#ff00e2 10.5%,#ff00c1 20.5%,#ff00a0 36.2%,#ff008b 52.4%)"></i><i style="background:linear-gradient(90deg,#e43dff 0%,#ff2aff 4.8%,#ff0feb 8.6%,#ff00e7 9.5%,#ff00c4 19.5%,#ff00a0 36.7%,#ff008d 51%)"></i><i style="background:linear-gradient(90deg,#e43aff 0%,#ff25ff 4.8%,#ff10f0 7.6%,#ff00eb 8.6%,#ff00c6 19%,#ff00a6 33.3%,#ff008f 50%)"></i><i style="background:linear-gradient(90deg,#e436ff 0%,#ff1dfd 5.2%,#ff0cf3 7.1%,#ff02f0 7.6%,#f0c 17.1%,#ff00ab 31%,#ff0091 49%)"></i><i style="background:linear-gradient(90deg,#e432ff 0%,#ff1aff 4.8%,#ff0df8 6.2%,#ff00f3 7.1%,#ff00d1 15.7%,#ff00b2 28.1%,#ff0093 47.6%,#ff0093 48.1%)"></i><i style="background:linear-gradient(90deg,#e42fff 0%,#fc17ff 4.3%,#ff00f8 6.2%,#ff00d6 14.3%,#ff00b3 27.6%,#ff0095 46.7%,#ff0095 47.1%)"></i><i style="background:linear-gradient(90deg,#e42aff 0%,#f914ff 3.8%,#ff00fd 5.2%,#ff00d5 14.8%,#ff00b4 27.6%,#ff0096 46.2%)"></i><i style="background:linear-gradient(90deg,#e426ff 0%,#f710ff 3.3%,#fc00ff 4.3%,#ff00e7 10%,#ff00c5 20.5%,#ff00a7 34.8%,#f09 44.8%)"></i><i style="background:linear-gradient(90deg,#e421ff 0%,#f110ff 2.4%,#f40bff 2.9%,#f700ff 3.3%,#ff00fb 5.7%,#ff00d9 13.8%,#ff00b6 27.1%,#ff009b 43.8%)"></i><i style="background:linear-gradient(90deg,#e41cff 0%,#ef0cff 1.9%,#f102ff 2.4%,#ff00fd 5.2%,#ff00d3 15.7%,#ff00ad 31.9%,#ff009d 42.9%)"></i><i style="background:linear-gradient(90deg,#e416ff 0%,#ef00ff 1.9%,#ff00fd 5.2%,#ff00d5 15.2%,#ff00b2 29.5%,#ff009e 41.9%)"></i><i style="background:linear-gradient(90deg,#e40dff 0%,#ea00ff 1%,#ff00fe 5.2%,#ff00da 13.8%,#ff00b8 27.1%,#ff00a0 41%)"></i><i style="background:linear-gradient(90deg,#e400ff 0%,#ff00fe 5.2%,#ff00d9 14.3%,#ff00b4 29%,#ff00a2 40%)"></i><i style="background:linear-gradient(90deg,#e500ff 0%,#ff00fe 5.2%,#ff00d8 14.8%,#ff00b5 29%,#ff00a5 38.6%)"></i><i style="background:linear-gradient(90deg,#e500ff 0%,#ff00fe 5.2%,#ff00da 14.3%,#ff00b7 28.1%,#ff00a7 37.6%)"></i><i style="background:linear-gradient(90deg,#e500ff 0%,#ff00fe 5.2%,#ff00d9 14.8%,#ff00b6 29%,#ff00a9 36.7%)"></i><i style="background:linear-gradient(90deg,#e500ff 0%,#ff00fe 5.2%,#ff00d6 15.7%,#ff00b1 31.9%,#ff00ab 35.7%)"></i><i style="background:linear-gradient(90deg,#e500ff 0%,#ff00fe 5.2%,#ff00d5 16.2%,#ff00b0 32.9%,#ff00ad 34.8%)"></i><i style="background:linear-gradient(90deg,#e600ff 0%,#ff00fc 5.7%,#ff00d7 15.7%,#ff00b3 31.4%,#ff00b0 33.3%)"></i><i style="background:linear-gradient(90deg,#e600ff 0%,#f0f 5.2%,#ff00dc 14.3%,#ff00b9 28.6%,#ff00b2 32.4%)"></i><i style="background:linear-gradient(90deg,#e600ff 0%,#f0f 5.2%,#ff00d9 15.2%,#ff00b4 31.4%)"></i><i style="background:linear-gradient(90deg,#e600ff 0%,#ff00fd 5.7%,#ff00d8 15.7%,#ff00b7 30.5%)"></i><i style="background:linear-gradient(90deg,#e600ff 0%,#ff00fd 5.7%,#ff00da 15.2%,#ff00b9 29.5%)"></i><i style="background:linear-gradient(90deg,#e600ff 0%,#ff00fd 5.7%,#ff00d9 15.7%,#f0b 28.6%)"></i><i style="background:linear-gradient(90deg,#e600ff 0%,#ff00fd 5.7%,#ff00d8 16.2%,#ff00be 27.1%)"></i><i style="background:linear-gradient(90deg,#e700ff 0%,#ff00fd 5.7%,#ff00d6 17.1%,#ff00c1 26.2%)"></i><i style="background:linear-gradient(90deg,#e700ff 0%,#ff00fd 5.7%,#ff00d9 16.2%,#ff00c3 25.2%)"></i><i style="background:linear-gradient(90deg,#e700ff 0%,#ff00fd 5.7%,#ff00d8 16.7%,#ff00c6 24.3%)"></i><i style="background:linear-gradient(90deg,#e700ff 0%,#ff00fd 5.7%,#ff00d7 17.1%,#ff00c8 23.3%)"></i><i style="background:linear-gradient(90deg,#e700ff 0%,#ff00fe 5.7%,#ff00da 16.2%,#ff00cb 22.4%)"></i><i style="background:linear-gradient(90deg,#e700ff 0%,#ff00fe 5.7%,#ff00da 16.2%,#ff00ce 21%)"></i><i style="background:linear-gradient(90deg,#e700ff 0%,#ff00fe 5.7%,#ff00d9 16.7%,#ff00d1 20%)"></i><i style="background:linear-gradient(90deg,#e800ff 0%,#ff00fe 5.7%,#ff00d8 17.1%,#ff00d4 19%)"></i></div></div><svg id="ov" width="550" height="489" viewBox="0 0 550 489"><defs>
<radialGradient id="ga" gradientUnits="userSpaceOnUse" cx="0" cy="0" r="1" gradientTransform="translate(121 80) scale(140 142)"><stop offset="0" stop-color="#f9525a"/><stop offset=".3" stop-color="#f64e58"/><stop offset=".4" stop-color="#ee4654"/><stop offset=".5" stop-color="#d83a4c"/><stop offset=".6" stop-color="#b42c40"/><stop offset=".7" stop-color="#8a2034"/><stop offset=".81" stop-color="#5e1424"/><stop offset=".92" stop-color="#3c0c18"/><stop offset="1" stop-color="#28070e"/></radialGradient>
<radialGradient id="gb" gradientUnits="userSpaceOnUse" cx="0" cy="0" r="1" gradientTransform="translate(358 80) scale(145 150)"><stop offset="0" stop-color="#ff5036"/><stop offset=".3" stop-color="#fa482e"/><stop offset=".4" stop-color="#f44029"/><stop offset=".5" stop-color="#e43424"/><stop offset=".6" stop-color="#c82a1c"/><stop offset=".7" stop-color="#a62018"/><stop offset=".78" stop-color="#8a1a14"/><stop offset=".85" stop-color="#6a1210"/><stop offset=".92" stop-color="#500c0c"/><stop offset="1" stop-color="#3a0808"/></radialGradient>
<filter id="nb" x="0" y="0" width="100%" height="100%"><feTurbulence type="fractalNoise" baseFrequency=".07" numOctaves="3" seed="11"/><feColorMatrix type="matrix" values="0 0 0 0 .7  0 0 0 0 .08  0 0 0 0 .05  2.2 0 0 0 -.95"/></filter>
<filter id="nz" x="0" y="0" width="100%" height="100%"><feTurbulence type="fractalNoise" baseFrequency=".45" numOctaves="2" seed="3"/><feColorMatrix type="matrix" values="0 0 0 0 0  0 0 0 0 0  0 0 0 0 0  1.6 0 0 0 -.55"/></filter>
<clipPath id="ccl"><rect x="45.5" y="227.5" width="198.5" height="222.0"/></clipPath>
<clipPath id="ccr"><rect x="298.2" y="240.1" width="239.1" height="189.2"/></clipPath>
<clipPath id="cpa"><rect x="7" y="4.5" width="223.3" height="166.5"/></clipPath>
<clipPath id="cpb"><rect x="245" y="4.5" width="223.6" height="166.5"/></clipPath>
</defs>
<rect x="7" y="4.5" width="223.3" height="166.5" fill="url(#ga)"/>
<rect x="245" y="4.5" width="223.6" height="166.5" fill="url(#gb)"/>
<rect x="7" y="4.5" width="223.3" height="166.5" filter="url(#nz)" opacity=".07"/>
<rect x="245" y="4.5" width="223.6" height="166.5" filter="url(#nz)" opacity=".08"/>
<rect x="245" y="4.5" width="223.6" height="166.5" filter="url(#nb)" opacity=".3"/>
<g clip-path="url(#cpa)" fill="#5a1020"><circle cx="79.6" cy="30.7" r=".5" opacity=".33"/><circle cx="126.4" cy="66" r=".32" opacity=".5"/><circle cx="16.3" cy="77.1" r=".32" opacity=".34"/><circle cx="101.8" cy="141.6" r=".34" opacity=".39"/><circle cx="146.7" cy="161.4" r=".47" opacity=".46"/><circle cx="223.8" cy="13.6" r=".56" opacity=".42"/><circle cx="39.9" cy="25.3" r=".39" opacity=".63"/><circle cx="47.9" cy="101.4" r=".49" opacity=".45"/><circle cx="129.1" cy="16.3" r=".32" opacity=".38"/><circle cx="158.4" cy="76.1" r=".39" opacity=".53"/><circle cx="108.2" cy="55.2" r=".54" opacity=".58"/><circle cx="61.9" cy="100.2" r=".46" opacity=".65"/><circle cx="169.2" cy="53.2" r=".59" opacity=".35"/><circle cx="100.4" cy="130.2" r=".35" opacity=".5"/><circle cx="16.7" cy="115.6" r=".53" opacity=".53"/><circle cx="201.5" cy="57.5" r=".51" opacity=".54"/><circle cx="136.2" cy="80.8" r=".55" opacity=".68"/><circle cx="112.8" cy="114.9" r=".32" opacity=".58"/><circle cx="151" cy="168.9" r=".55" opacity=".41"/><circle cx="93.3" cy="115.7" r=".31" opacity=".48"/><circle cx="45.1" cy="25.2" r=".32" opacity=".61"/><circle cx="36.6" cy="46.6" r=".42" opacity=".65"/><circle cx="25.8" cy="79.7" r=".46" opacity=".65"/><circle cx="189.1" cy="147.7" r=".38" opacity=".47"/><circle cx="87.3" cy="151" r=".59" opacity=".36"/><circle cx="46.9" cy="44" r=".37" opacity=".49"/><circle cx="138.2" cy="49.1" r=".3" opacity=".47"/><circle cx="89.6" cy="98.9" r=".59" opacity=".58"/><circle cx="121.9" cy="107.3" r=".5" opacity=".32"/><circle cx="206.8" cy="133.9" r=".56" opacity=".62"/><circle cx="94.7" cy="71.4" r=".33" opacity=".55"/><circle cx="21.8" cy="17" r=".36" opacity=".36"/><circle cx="83.2" cy="14.6" r=".3" opacity=".36"/><circle cx="30.4" cy="65.6" r=".31" opacity=".65"/><circle cx="143.7" cy="30.4" r=".38" opacity=".44"/><circle cx="88.5" cy="26.1" r=".55" opacity=".7"/><circle cx="111" cy="85.3" r=".33" opacity=".34"/><circle cx="83.7" cy="49.4" r=".55" opacity=".36"/><circle cx="13.1" cy="162" r=".46" opacity=".36"/><circle cx="128" cy="10.4" r=".46" opacity=".69"/><circle cx="207.5" cy="94" r="1.2" fill="#200408"/><circle cx="93" cy="43.5" r=".8" fill="#300810"/></g>
<g clip-path="url(#cpb)" fill="none" stroke-linecap="round"><path d="M437.7 120.2l-.1 1.5M458.3 79.3l-.6 .1M414.7 155.6l.8 1.3M352.1 160.4l-1.4 .3M273.2 133.4l1.3 .6M396.1 161.1l1.3 .7M286.7 152.8l-1 .2M323 9l.1 0M358.3 166.4l.6 .5M294.4 36l.3 .8M444.2 134.6l-.9 .8M431.4 152.3l-.9 1M387.4 163.4l-.8 .5M410.1 166.1l.1 .4M292.1 154.6l-.1 .8M274.4 47.3l-.2 .2M300.8 163.5l.4 .1M289.3 16.3l.3 .5M429.4 23.6l-.7 .1M414.6 133.9l.6 .8M438.3 79.7l-.8 .7M277.4 39.5l1.2 .1M335.9 160.5l-.7 .2M284.1 17l0 1.3M448.6 57.6l1.1 .3M295.1 142.6l1.3 .7M441.9 23.2l-.4 .5M423.9 122l1 .3M439.4 134.3l-1.3 .9M449.1 37.5l.2 .4M447.5 109.4l.1 .9M260.6 102.8l1.2 .9M413.3 20.3l0 .3M326.5 158.3l1.3 .2M298 28.9l-.1 .8M301.8 14.6l.8 1.1M416 15.9l-.4 1M429.1 132.9l-.3 1.4M379.2 163.1l-.2 .5M279.5 142.6l-.5 0M415.5 134.4l-1.1 .7M438.5 99.8l-1.3 .1M388.2 162.9l1.2 .7M413.6 160.1l-.2 .7M430.9 18.8l-.3 .1M280.6 50.5l.2 .3M272.5 129.8l.1 .5M443.4 125.9l.3 .2M257.5 65.6l.4 .4M342.7 166.9l-1.1 .8M257.9 90.8l.5 .5M309.2 168l.1 0M277.2 39.2l-.7 .5M279.2 145.4l-.9 .4M420.7 145.3l.2 .5M330.1 7.3l.2 .6M320.4 148.9l.1 .2M424.7 32.1l.6 .4M435.1 126.7l1.2 .1M296.3 26.7l.4 .5M275.5 111.1l1.1 .5M446.7 33l1.3 0M434.3 42.5l-.2 .3M435 117.4l.8 .3M439.3 33.6l-1 .7M431.6 102.5l-.1 1.1M286.5 140.2l-1.4 .7M350 159.7l1 0M320.1 9.4l-.9 .4M439.8 123.4l.6 .1M317.8 168.1l-0 1.4M439.4 80.3l.4 1.2M451.3 101.9l-.4 1.5M256.6 79.5l-1 .4M425.7 149.6l-.1 .1M432.6 64.7l.2 .9M280.8 147.5l-.3 0M281.9 118l.1 .1M419.6 145.6l1.2 .2M407.7 13.9l.3 .1M339.1 165.6l-1 1M435.5 89.7l.8 .7M393.5 157.5l.9 1M436.4 63l-.4 1.6" stroke="#b87844" stroke-width="1" stroke-opacity=".6"/><path d="M325 42.5l-.5 .4M410.3 43.2l0 1.2M349.3 113.6l-1.3 .8M391.9 63.5l-0 .1M426.9 90.7l.3 .1M346.7 61.6l.4 1.4M384 13.1l.2 .2M392.1 112.6l0 1.4M333.3 89.1l.3 .3M341.6 15.1l-1.2 .7M357.6 39l-.2 .2M385.8 19.9l-.3 .1M355.7 52.6l-.1 .1M385.4 108.7l.4 .3M347.4 17.5l-.2 .1M416.3 107.2l.8 .6M319.7 112.9l.5 .8M294.3 86.3l-0 .8M349.5 25.4l1.3 .9M325.8 105l-0 1.4M378.3 74.1l.7 .1M319.1 36.4l-.1 .1M406.2 103.7l-.2 0M383.7 116.6l-.2 1.3M298.3 52.1l.2 .1M301.9 46.3l1 .9M289.5 83.6l.5 .4M332.5 80.7l-.8 .7M343.3 9.8l-.8 0M352.6 103.1l-0 .6M344.2 35l-.5 .1M360.6 56.9l-1.4 .3M381 89.1l.3 1M358.9 16.5l1.4 .2M342.8 135.3l-.5 0M303.8 44.7l.3 .2M364.5 114.9l-.3 0M350.1 13.9l1.1 .9M335.1 70.7l1.4 .4M377.9 119l-.3 .6M342.6 38.2l-.5 .1M399.9 88.1l.1 .1M341.5 100.1l-.6 1.2M394.3 113l-.8 1.1M373.6 94.7l0 .1M407.9 106.7l.5 .1M317.1 85.5l-.5 1M384.8 61.5l.3 .7M312.4 102.2l1.5 .4M400.6 103.8l.2 0M350.8 152.9l.1 0M350.9 51.2l.9 .8M423 65.6l1.1 .6M424 104.4l-.1 .1M374.3 64.9l-.4 .2M328.3 44.6l.1 .1M302.8 63.7l-1.3 .4M344.1 89.3l.1 0M360.5 25.8l1 .9M310.7 23.7l0 .9M339.3 143.7l1.5 .2M386.5 65.8l.5 .3M389.7 25.7l-1.5 .2M390.4 39l.6 1.3M287.9 95.5l.5 1.4M332.1 78.1l-.6 .6M324.4 92.3l.2 .5M329.1 71.7l-.3 .1M399.2 140.6l-.7 .3M305.1 112.1l-0 .3M396.4 116.7l.4 .4M321.8 31.6l.4 .2M367 135.1l.2 1.3M327.4 137.1l.3 .6M400.2 70.6l-.2 .4M357.7 118.9l-.3 .8M396.2 39.8l-.1 1.5M376.4 45.5l-.8 .5M414.8 33.8l1.4 .7M372.4 53.5l.1 0M410.1 49.4l0 .8M309.5 106.6l-.2 .4M317.1 66.4l-1.3 .3M328.7 11.3l-1.2 .6M340.4 52.5l1.1 .2M373.1 24.5l-.9 .3M360.4 81.4l.1 .3M325 59.7l1.4 .5M357 49l-.2 1M415.5 127.3l-.4 .2M293.1 59.6l.8 .1M376.6 97l-1 .1M297.1 107.5l0 .1M389.7 112.9l-.8 .1M338 111.3l-.9 1.1M366 109.8l-0 .3M391 95.2l.4 .6M393.3 20.2l-1.1 .9M394.3 80.7l1.2 0M411 68.1l1.5 .3" stroke="#e6a868" stroke-width="1" stroke-opacity=".6"/><path d="M295.5 139.1l-1.1 .8M423.5 19.9l-1.2 .4M423.5 125.1l-.1 1.5M279.3 29.2l-.1 .6M288.5 12.9l-0 .9M296.7 149.7l.1 .1M424 19.7l1.4 .3M281.8 14.3l-1 .2M290.1 150.6l.2 .6M287.1 50.1l1 1.1M427.4 29.6l.2 .5M276.9 91.9l-.8 .5M444.2 118l.2 0M432.3 25.7l-.9 1.1M266.1 62.1l.4 .6M425.7 39.2l-.5 .5M270.2 31.3l-1.2 .2M261.6 92l.1 .4M442.4 112.1l.8 .8M451.4 43.2l-.7 1M328.7 156.8l.6 1M391 168.5l1.4 0M272.5 37.1l-.6 .1M398.8 152.1l-.4 .9M427.1 37.6l-.3 .5M450.7 57.5l.8 .1M329.9 161.9l.2 0M355.2 162.9l-.7 1M307 139.8l1.1 1.1M391 9.7l-.1 .5M400.3 144.6l.6 .7M291.7 24.4l-1.4 .2M458.5 90.5l.3 .3M354.8 168.5l-.2 .6M413.6 141.5l-1 1.2M289.4 30.8l-1 .7M442.5 82.1l.4 1.2M401.5 152.7l-.9 .7M436.6 91l-.6 .2M281.7 134.2l-0 .3M454.7 92.4l-1.5 0M301.5 22.6l-.3 .2M421 143.6l0 .4M447 120.9l0 .9M312.7 7l-.7 .4M287.6 14.2l-.1 .2M288 37.5l-.4 .3M450.8 86.9l.3 .7M264.1 57.8l.4 .8M451.5 51.9l-1.2 .2M439.3 81.2l-1 .4M450.7 121.8l.7 .7M444.1 82.7l-.3 .2M277.7 42.4l.7 .4M443.4 78l.5 .5M439 123.6l.5 .6M276.4 103.1l.9 .4M290.6 115.7l1.4 .7M418.4 159.7l-1.2 .8M280.7 53.5l-0 .4M286.5 109.3l.7 1.4M305.2 22.3l.4 .7M440.3 85.4l.3 .1M424.8 130.4l.6 .1M274.3 131l-1.3 .2M266.5 110.4l1.1 .5M270.6 56.7l.7 .4M300.6 28.7l.7 .1M278.2 66.3l1.1 .4M302.3 15.5l-.2 1M428 121.7l-.8 .1M277.5 43.3l.3 1.5M348.2 165.3l-1.5 .1M458.1 81.4l-.4 .6M443.3 107.9l-.3 1.4M262.8 60l.2 .2M276.9 120.6l-1.2 .5M298.8 136.7l-.3 .5M452.3 102.2l.3 .5M432.2 58.4l.3 .4M289.7 126.4l-.1 .2M334.7 160.2l.6 0M335 166.6l-.1 .3M409.7 154.1l-.1 .6M446 69.8l.8 1.2M269.9 126.3l-1.2 .8M304.8 17.3l.1 .1M424.4 153.3l.6 .6M426.6 45.1l1 .5" stroke="#c8844e" stroke-width="1" stroke-opacity=".6"/><path d="M465.7 135.6l.8 .8M265.3 161.2l.1 1.2M275.1 155.2l-1 .3M250.3 96.9l-.4 .5M248.8 15.9l-.2 0M453.8 8.9l.8 .2M466.8 169l1.2 .9M456.9 117.8l.2 .3M263 157.8l-.5 .2M252.4 130.9l-1.5 .4M424.5 164.8l.7 0M451.8 141.4l-.5 0M456.6 30l.1 0M457.7 13.1l-.5 .1M247.9 158.7l-1.1 .7M260.4 11.6l.6 .4M247.4 110.5l.5 .4M448.9 139.6l.2 .6M260 22.6l-.2 .3M249.3 96.5l1 .3M258.5 140.6l-.3 .9M255.8 93.2l.3 .2M448.5 19.2l1.4 .8M250.6 48.1l1.2 .2M448.1 132.2l-.9 .5M252.9 73.7l-0 .2M251.6 39.8l.2 .9M437.6 7.1l.1 .9M456.6 125.4l-.2 .3M246.4 49.1l1.3 .7M445.1 151.2l.1 1M250.6 11.5l-.1 .4M427.8 164l-.5 .3M256.4 135l.3 .1M258.8 125.1l1 .5M260.6 126.2l-1.3 .7M448.6 133.8l-.3 1.4M442.4 11.6l-1 .3M442.5 156.2l.8 .9M282 162.1l-.1 .8M265.5 156.9l-1 .1M251.7 48.1l.5 .7M273.4 141.4l-.1 .7M447.1 22l1.4 .5M453.7 24.3l-1.3 .4M265.9 12.6l0 .4M258.8 44.9l1.1 .2M251.1 33l.1 .1M256.1 108.7l-1.2 1M458.5 165.2l.4 0M421.3 162.1l1.1 0M466.5 128.2l.2 .5M465.5 119.8l-1.3 0M257 119.8l-.4 .6M260.6 130.2l-.1 .9" stroke="#70442a" stroke-width="1" stroke-opacity=".6"/><path d="M294.9 43.2l.4 .7M412.5 84.4l.2 1M342.3 149l.4 0M359.3 149.1l-.4 1.2M361.1 97.1l-.2 .1M360.9 54.5l1.4 .5M418.9 50.4l-1.2 .7M372.7 120.9l.8 1M394.9 52.2l-.1 .1M305 125.6l.8 .7M348.2 144.7l.1 1.1M292.8 101.4l-.3 .4M367.9 124l-.7 .1M353.3 115.7l.3 .2M385.8 147.5l1.4 .4M316.2 143.7l0 .5M326.4 71l-1 .7M358.1 39.7l.7 1.1M314.5 137.8l.8 .1M351.3 109.6l-1 .7M328.8 127l.1 .4M383.9 18.8l-.7 .6M308.9 56.4l.5 .8M328.3 88.7l.2 .3M361 68.9l1.4 .7M344.1 89.7l.3 0M382.3 119.6l1.3 .9M329.4 66.5l.5 1.1M408.7 128.5l.9 .5M342 90.1l.4 .2M419.8 123.3l.3 .7M304 111.6l.6 1.1M293.1 108.1l-.1 .3M310 129.1l.8 0M355.1 136.7l-1 .1M401.3 87.7l-1.2 .2M348.6 151.2l-0 .5M303.1 127.1l-1 1.1M395.8 101.1l.9 .8M348.6 33l-.9 .6M350.2 98.2l-.3 .2M375.3 113.8l-1.1 .2M346.3 134.7l-1.2 .4M353.5 130.2l1.2 .1M362.7 132.4l.4 .5M291.2 86.7l.3 .5M386.7 108.5l.4 .1M397.8 26l.2 .2M390.5 140l.2 .5M371.8 54l-.4 1M332 67.7l-.4 .3M368.9 136.8l-.9 .7M291.9 47.8l-.6 .5M352.9 33.6l-1.2 .8M346.4 61.7l.1 1M430.8 92.4l.1 .1M336.8 51.4l.3 .2M417 122.7l-.4 1.3M394.7 109.1l-.1 .4M363.8 94.1l.2 .2M387.4 82.1l-.2 .2M376.1 130.9l.7 .3M411.7 32.9l-.7 .1M385.5 138.2l-.2 .4M361.5 77.1l.3 .4M346.6 7.7l-0 .2M290.1 104.7l1.1 .6M349.8 76.6l-.5 1M374.5 29.6l.2 .3M343.6 107.7l.3 .2M376.3 34.5l-1.3 .4M296.5 80.2l-1.6 .3M359.3 26.6l-.1 .2M297.4 36.9l1.4 .3M392.3 120.7l-.7 0M409 122.9l.3 1M341.6 130.1l.1 .1M315 110.7l-.1 .4M375.9 120.1l-.1 .1M370.1 34.6l-1.1 .1M366.8 46.9l.5 .3M394.8 45l1.1 0M432.4 72.6l.5 .2M326 39.9l-.5 .2M288.1 95.1l.1 .2M383.6 139l-.4 .5M344 48.8l1.2 .8M394.8 122.3l-.1 .4M358.6 143.5l-.6 1.4M395.9 47.8l-.1 .1M354.2 85.4l-.1 .1M399.8 79.6l-.9 .4M386.1 125.2l.3 .4M306.1 111.4l-.6 1.3M381.4 137.3l.7 .1M319.1 21.3l.7 .5M366.6 39.6l.7 .7M395.7 63.5l-.1 .7M312.6 20.5l.1 1.4M343.5 77.3l-.5 0M357.6 63.7l.1 .7M324.5 87.4l.2 .4" stroke="#e0a060" stroke-width="1" stroke-opacity=".6"/><path d="M464.7 106.1l.1 1.1M264.9 32.1l1 .1M262.1 45.5l.4 .3M460.8 42l.3 .8M465.8 142.5l-1 1.3M258.1 27.3l-.5 1.3M461.9 95.7l1.4 .2M257.5 114.6l.4 .4M439.8 9.6l.3 1.2M246.3 26.6l-.2 .5M445.4 150.9l-1.5 0M270.2 18.8l.7 1.4M273.5 164.1l.5 1.2M255 11.7l-.2 .1M269.4 17.8l.6 .4M465.4 165.4l.5 .5M460.6 38.4l-.1 .1M254.2 35.9l-.2 .5M448.4 23.2l.4 .2M452.1 152.6l-.1 0M247.4 10.3l-.1 .5M253.3 24.4l.1 .3M252.4 12.8l-.7 1M266.2 140.4l.2 .9M284 167.1l-.3 .1M288 165.9l.9 .5M248.4 142.4l.9 .1M447.1 134.6l-.1 .6M283.3 152.1l-.7 1.2M263.5 143.6l-.1 .5M254.2 133l.5 1.2M253.6 9.3l0 .9M448.8 14.6l.1 0M464.1 56.8l-.4 .7M265.5 138.3l.7 .6M466.8 68l.9 .1M258.6 152.8l-.3 1.3M252.7 21.8l.9 1M446.1 19.9l.2 .9M465.6 117.1l.3 1.1M467.1 62.3l.5 .3M463.2 141.5l1.4 .5M249.4 10.8l0 .9M269.7 22.4l-.8 .1M278.2 8.5l-.7 1M447.8 133.1l-.4 .1M466.3 129.1l-.4 .4M443.7 16.3l-.7 1.2M459.1 98.3l1.1 .5M248.6 47.9l.5 1.1M456.5 124.4l-.5 .3M465.5 78.1l0 .2M425.4 161.6l1.6 .1M425.6 169.4l.1 0M450 161l.1 0M251.4 24.3l.5 .2M463.5 11.4l.8 .6M249.4 28.1l-.3 1.1M460.8 150.8l.2 .3M285.5 161.4l.3 .5" stroke="#8a5634" stroke-width="1" stroke-opacity=".6"/><path d="M357.3 131.2l.5 .5M380.6 38.7l.1 .9M291 79.4l.7 .3M335.6 75.1l.6 1M363.9 39.8l-0 .4M362.8 128.3l.1 .2M402.1 43.9l.1 .3M322.4 57.8l1.2 0M310.3 67l.5 1.3M359.4 37.1l-.6 .5M382.5 28.7l.1 1.5M368.1 34l.3 .5M319.9 130.5l.4 .2M337.9 92l.8 .9M356.6 100.2l.8 .3M331.4 111.9l-1.4 .2M389.7 131.4l1.2 .3M379.4 7.7l-.5 0M297.2 42.3l1 .3M381.4 153l.3 1.1M393.5 68.1l-.8 0M301.7 76.5l.8 .3M380.8 59.8l.2 1.3M378.2 89.9l-.3 .3M297.3 79.5l.5 .1M364.5 113.1l-.4 .6M325.3 74.3l-.3 .6M428.1 72.6l0 .3M314.4 46.9l-.4 .7M345.2 107.4l-1.1 .6M334.9 17l.1 .2M318.8 67.8l.8 .3M387.3 65l-.2 1M362.1 93.6l-.3 .9M291.3 108.3l.1 .1M379.6 90.9l1 1M421.8 112l.4 .6M318.5 31.5l-.6 1.1M283.6 78l-.1 .3M406.5 104.9l.5 .3M396.9 111.2l.1 .5M385.8 47l0 .1M421.9 66.7l.4 1.5M292.6 118.2l-.1 1.5M334.7 8.2l-1 .3M393.9 142.2l.1 .5M367.7 26.5l.6 1.2M305.4 67.7l-1.1 .1M352.9 138.1l.5 1M393.7 143.9l.4 1.6M396.1 35.6l-.1 .1M381.3 117.9l-.2 .1M335.6 88.6l-.6 .2M334.6 96.9l-0 .2M420.6 98.2l-.3 .2M345.1 8.3l-.5 1.5M392.4 31.5l-0 .2M385.6 122.3l-.7 1.2M351.9 133.6l-1.3 .2M367.6 133.4l.1 .2M390.9 83.2l.2 .2M345.3 21.9l-.9 .5M355 58.2l1.5 .6M299 45.1l.9 1.1M361.1 63l-1.2 .7M355.4 8.5l1 .4M301.1 98.4l1.1 .1M373.6 146.7l-0 .8M383.4 33.5l.9 .9M410.4 53.1l-.3 .9M313.4 84.4l.6 .1M368.4 105.4l0 .2M410 127.9l.7 .8M386.3 121.4l-.1 0M416 102.1l.5 1.5M330.3 80.2l.4 .5M365.2 137.7l-.2 .9M299.9 59.4l-1.4 .5M315.4 107.7l-0 .9M398.1 69.9l1.1 .1M287.8 75.1l.2 1M387.3 12.9l.1 0M403.8 96.7l.1 .2M331.6 15l-.4 1.5M313.4 104.8l-.2 0M349.7 62.5l1.1 .1M385.7 101.2l-.8 .1M378.3 78.2l-.1 .7M356.5 91.4l-.5 .8M316.7 133.4l-.2 .2M363.1 63.2l.1 .6M314.9 107.2l1.1 .7M356.9 31.8l-.3 1M395.9 99.1l.6 .2M392.2 98.7l-.8 .1M389.7 55.1l-.1 1M374.6 97l.2 .4M367.7 24.4l-.2 .3M303.4 30.6l-1 .4M384.7 40.7l-.4 .5M386.5 110.1l-1 .8M407.3 96.4l.4 .1M325.2 133l-.9 1.1M391.2 57.4l-.4 1.1M307.8 91.8l.1 0M351.6 113.5l.9 .5M403.5 78.4l1.2 .9M403.5 45.7l1 .7M388.7 54.9l.7 .6M305.1 114.2l1.3 .3" stroke="#d89456" stroke-width="1" stroke-opacity=".6"/><path d="M437.7 76.2l.2 .8M329.3 65.8l-.3 .6M313.1 114.6l.3 .3M345.1 24.3l-.4 .8M284.7 90.8l.2 0M354.5 114.3l-.3 .6M423.9 47.5l-0 .1M303.6 102.9l.4 .6M449.6 47.9l.4 .4M362.6 86.9l.2 .1M458.8 53.6l-.9 .7M405.3 67.6l.9 .1M461.3 76.7l-.1 .4M299 145.4l.7 .3M463 145.7l-0 .2M291.1 147.1l.6 .1M333.3 74l-.8 .2M421.7 23.7l-.2 1.1M401.6 77.5l-.3 0M260.5 71.2l.8 .4M248.1 44.1l.6 .4M451.5 54.2l.3 .5M348.1 20.8l-.6 .3M249.4 87.5l-.3 .2M346.8 141.1l.4 .3M437.6 96.3l-.7 .7M277.1 72.7l.8 .1M317.1 37.2l-.3 0M365.6 91.3l.5 .1M393.4 55l.3 1M397.2 56.3l.4 .4M342.8 94.5l.1 .2M292.1 113l-.8 .2M403.6 29.2l-.5 .1M347.3 121.9l-.4 .8M247.9 17.1l-1 .2M253.8 42l.1 .3M292.5 165.6l-.2 .5M407.6 39.4l.2 .2M436.5 26.4l1 .4M426.8 87.5l.9 0M409.7 32.9l.7 .6M412.2 137.5l-0 .3M418.6 123.3l-0 .6M290.8 21l.3 .1M431.1 121.8l.1 .6M438.7 157.5l.3 .1M345.1 130.3l-.9 .4M402.9 124l.2 .3M367.8 41.2l-.8 .1M297.2 165.8l.1 .2M310.6 113.4l-.2 .3M279.1 36.2l.3 .5M254.6 63.7l-.2 .3M391.7 92l.6 .1M249.9 134.2l-1 .4M290.5 51.9l.4 .6M413.9 39l.1 .9M415.8 154.3l-.1 .4M374.8 22.5l.3 0" stroke="#7a140e" stroke-width="1" stroke-opacity=".45"/><circle cx="465" cy="79" r="1.3" fill="#5a0c0a"/></g>
<rect x="7" y="4.5" width="42" height="32" fill="#000"/>
<rect x="245" y="4.5" width="43.6" height="31.7" fill="#000"/>
<g font-family="'Liberation Sans',sans-serif" font-weight="bold">
<text fill="#fff" font-size="18.2"><tspan x="16.8" y="27.2">(</tspan><tspan x="22.6" y="28.2" font-size="19.4">a</tspan><tspan x="34" y="27.2">)</tspan></text>
<text fill="#fff" font-size="18.2"><tspan x="253.8" y="27.2">(</tspan><tspan x="260" y="28.2" font-size="19.4">b</tspan><tspan x="272.6" y="27.2">)</tspan></text>
<text fill="#000" font-size="17.8"><tspan x="2.8" y="206.5">(</tspan><tspan x="9.2" y="207.9" font-size="19.4">c</tspan><tspan x="20" y="206.5">)</tspan></text>
<text x="15.8" y="153.6" font-size="15.4" fill="#fff">500µm</text>
<rect x="15" y="156.5" width="43.2" height="3" fill="#fff"/>
<text x="254" y="153.6" font-size="15.4" fill="#fff">500µm</text>
<rect x="253.2" y="156.5" width="43.2" height="3" fill="#fff"/>
</g>
<g font-family="'Liberation Sans',sans-serif" font-size="6.4" fill="#ecc4cc" stroke="none" text-anchor="middle">
<text x="201.5" y="14.9">500 µm</text><text x="439.7" y="14.6">500 µm</text></g>
<path d="M180.1 17.2H222.8M180.3 15.7V18.7M222.6 15.7V18.7" stroke="#e8c6cc" stroke-width="1" fill="none"/>
<path d="M418.2 17.2H461.3M418.4 15.7V18.7M461.1 15.7V18.7" stroke="#eeccc4" stroke-width="1" fill="none"/>
<path d="M88.7 448.3 88.4 448.3 88.1 448.3 87.8 448.1 87.6 448 87.4 447.8 87.2 447.6 87 447.4 86.7 447.2 86.5 447 86.3 446.9 86.1 446.7 85.9 446.5 85.6 446.2 85.5 446.1 85.3 445.9 85 445.7 84.8 445.5 84.6 445.3 84.3 445.1 84.1 444.9 83.8 444.7 83.5 444.4 83.2 444.1 82.9 443.9 82.6 443.6 82.3 443.2 81.9 442.9 81.7 442.7 81.6 442.5 81.4 442.3 81.2 442.1 81 441.9 80.8 441.7 80.6 441.5 80.4 441.3 80.2 441 80 440.8 79.8 440.5 79.5 440.2 79.3 439.9 79.1 439.6 78.8 439.2 78.5 438.8 78.3 438.5 78 438 77.7 437.6 77.4 437.1 77.1 436.7 76.8 436.2 76.5 435.6 76.2 435.1 75.9 434.5 75.5 433.9 75.2 433.2 74.8 432.6 74.5 431.9 74.1 431.1 73.7 430.4 73.4 429.5 73 428.7 72.6 427.8 72.2 426.9 71.7 425.9 71.3 424.9 70.9 423.8 70.4 422.7 70 421.5 69.5 420.3 69 419 68.5 417.7 68 416.3 67.5 414.9 66.9 413.4 66.4 411.8 65.8 410.2 65.2 408.6 64.7 406.8 64.1 405.1 63.5 403.2 62.9 401.3 62.3 399.3 61.8 397.2 61.2 395.1 60.6 392.9 60 390.7 59.4 388.4 58.9 386 58.3 383.5 57.7 381 57.1 378.4 56.6 375.8 56 373 55.4 370.3 54.8 367.4 54.3 364.6 53.7 361.6 53.2 358.7 52.7 355.7 52.1 352.7 51.6 349.6 51.1 346.5 50.7 343.4 50.2 340.3 49.8 337.2 49.4 334.1 49 330.9 48.6 327.8 48.3 324.7 48 321.6 47.7 318.5 47.4 315.5 47.2 312.5 47 309.5 46.8 306.5 46.7 303.6 46.6 300.7 46.5 297.8 46.4 295 46.4 292.3 46.4 289.5 46.5 286.9 46.6 284.3 46.7 281.7 46.9 279.2 47.1 276.8 47.3 274.4 47.6 272.1 47.9 269.8 48.3 267.7 48.7 265.6 49.1 263.6 49.6 261.7 50.1 259.9 50.7 258.1 51.3 256.5 51.9 255 52.6 253.5 53.3 252.2 54 250.9 54.7 249.8 55.5 248.8 56.3 247.8 57.1 247 58 246.3 58.8 245.7 59.7 245.1 60.6 244.7 61.5 244.4 62.5 244.1 63.4 243.9 64.4 243.8 65.3 243.8 66.3 243.8 67.3 243.9 68.3 244 69.3 244.2 70.3 244.5 71.3 244.8 72.3 245.1 73.3 245.5 74.3 245.9 75.3 246.3 76.4 246.8 77.4 247.3 78.4 247.7 79.4 248.3 80.4 248.8 81.4 249.3 82.4 249.9 83.4 250.4 84.4 251 85.3 251.6 86.3 252.1 87.3 252.7 88.2 253.3 89.2 253.9 90.1 254.5 91.1 255.1 92 255.8 92.9 256.4 93.8 257 94.8 257.7 95.7 258.3 96.6 259 97.5 259.7 98.4 260.3 99.3 261 100.2 261.7 101.1 262.4 102 263.1 103 263.8 103.9 264.5 104.8 265.3 105.7 266 106.6 266.7 107.5 267.5 108.4 268.2 109.3 269 110.2 269.7 111 270.5 111.9 271.3 112.8 272 113.7 272.8 114.6 273.6 115.5 274.4 116.4 275.2 117.3 276 118.2 276.8 119.1 277.6 120 278.4 120.8 279.2 121.7 280 122.6 280.8 123.5 281.6 124.4 282.5 125.3 283.3 126.2 284.1 127 285 127.9 285.8 128.8 286.6 129.7 287.5 130.6 288.3 131.5 289.1 132.4 290 133.3 290.8 134.2 291.7 135.1 292.5 135.9 293.4 136.8 294.3 137.7 295.1 138.6 296 139.5 296.8 140.4 297.7 141.3 298.6 142.2 299.4 143 300.3 143.9 301.1 144.8 302 145.7 302.9 146.6 303.7 147.5 304.6 148.3 305.5 149.2 306.3 150.1 307.2 151 308.1 151.9 308.9 152.7 309.8 153.6 310.6 154.5 311.5 155.4 312.4 156.2 313.2 157.1 314.1 158 314.9 158.9 315.8 159.7 316.6 160.6 317.5 161.4 318.3 162.3 319.2 163.2 320 164 320.9 164.9 321.7 165.7 322.6 166.5 323.4 167.4 324.2 168.2 325.1 169.1 325.9 169.9 326.7 170.7 327.6 171.6 328.4 172.4 329.2 173.2 330 174 330.8 174.8 331.6 175.7 332.4 176.5 333.2 177.3 334 178.1 334.8 178.9 335.6 179.6 336.4 180.4 337.2 181.2 337.9 182 338.7 182.8 339.5 183.5 340.2 184.3 341 185 341.7 185.8 342.5 186.5 343.2 187.3 343.9 188 344.6 188.7 345.4 189.4 346.1 190.2 346.8 190.9 347.5 191.6 348.2 192.2 348.9 192.9 349.5 193.6 350.2 194.3 350.9 194.9 351.5 195.6 352.2 196.2 352.8 196.8 353.4 197.4 354 198 354.6 198.6 355.2 199.2 355.8 199.8 356.3 200.4 356.9 200.9 357.5 201.5 358 202 358.6 202.6 359.1 203.1 359.7 203.7 360.2 204.2 360.7 204.7 361.2 205.2 361.7 205.7 362.2 206.2 362.7 206.7 363.2 207.2 363.6 207.6 364.1 208.1 364.5 208.5 365 209 365.4 209.4 365.8 209.8 366.2 210.2 366.6 210.6 367 211 367.4 211.4 367.8 211.8 368.2 212.1 368.5 212.5 368.9 212.8 369.2 213.2 369.6 213.5 369.9 213.9 370.2 214.2 370.6 214.5 370.9 214.8 371.2 215.1 371.5 215.4 371.8 215.7 372.1 216 372.4 216.2 372.6 216.5 372.9 216.8 373.1 217 373.4 217.3 373.7 217.5 373.9 217.8 374.1 218 374.4 218.2 374.6 218.5 374.8 218.7 375 218.9 375.2 219.1 375.4 219.3 375.6 219.5 375.8 219.7 376 219.9 376.2 220.1 376.4 220.3 376.6 220.4 376.8 220.6 376.9 221 377.3 221.3 377.6 221.6 377.9 221.9 378.2 222.2 378.5 222.5 378.8 222.8 379.1 223 379.4 223.3 379.6 223.5 379.9 223.8 380.1 224 380.3 224.2 380.5 224.4 380.7 224.6 380.9 224.8 381.1 225.1 381.3 225.3 381.6 225.5 381.8 225.7 382 225.9 382.2 226.1 382.4 226.3 382.6 226.5 382.8 226.7 382.9 226.9 383.1 227.1 383.3 227.3 383.5 227.5 383.7 227.7 383.9 227.8 384.1Z" fill="none" stroke="#111" stroke-width=".7" clip-path="url(#ccl)"/>
<path d="M238 474.2 237.7 474.3 237.4 474.3 237 474.3 236.7 474.2 236.5 474.1 236.3 473.9 236 473.8 235.8 473.6 235.6 473.4 235.3 473.2 235 473 234.8 472.8 234.6 472.6 234.4 472.4 234.2 472.2 234 472 233.7 471.8 233.5 471.5 233.2 471.3 232.9 471 232.6 470.8 232.3 470.5 231.9 470.2 231.5 469.9 231.3 469.7 231.1 469.5 230.9 469.4 230.7 469.2 230.5 469 230.3 468.8 230 468.6 229.8 468.4 229.6 468.2 229.3 468 229.1 467.8 228.8 467.5 228.6 467.3 228.3 467.1 228 466.8 227.7 466.6 227.5 466.3 227.2 466.1 226.9 465.8 226.6 465.5 226.3 465.2 225.9 464.9 225.6 464.6 225.3 464.3 224.9 463.9 224.6 463.6 224.2 463.2 223.9 462.8 223.5 462.4 223.1 462.1 222.8 461.7 222.4 461.2 222 460.8 221.6 460.3 221.2 459.8 220.8 459.3 220.3 458.8 219.9 458.2 219.4 457.5 218.9 456.9 218.4 456.2 217.9 455.4 217.4 454.6 216.8 453.8 216.3 452.9 215.7 452 215.1 451 214.5 450 213.9 448.9 213.3 447.8 212.6 446.7 212 445.4 211.3 444.1 210.6 442.8 209.9 441.4 209.2 439.9 208.4 438.3 207.7 436.7 206.9 435 206.1 433.2 205.3 431.3 204.5 429.3 203.6 427.3 202.8 425.1 201.9 422.9 201 420.6 200 418.1 199.1 415.6 198.1 412.9 197.1 410.2 196 407.3 195 404.4 193.9 401.3 192.8 398.1 191.7 394.8 190.6 391.4 189.4 387.8 188.3 384.1 187.2 380.3 186.1 376.4 185 372.3 183.8 368.1 182.7 363.8 181.6 359.3 180.5 354.8 179.4 350.1 178.3 345.2 177.2 340.3 176 335.2 174.9 330 173.8 324.7 172.7 319.3 171.7 313.7 170.6 308.1 169.6 302.5 168.5 296.7 167.5 290.9 166.6 285 165.6 279.1 164.7 273.2 163.9 267.2 163 261.2 162.2 255.2 161.5 249.2 160.8 243.3 160.1 237.3 159.5 231.4 159 225.5 158.5 219.6 158 213.8 157.6 208.1 157.3 202.4 157 196.8 156.8 191.2 156.6 185.8 156.5 180.4 156.5 175.1 156.5 169.9 156.7 164.8 156.8 159.7 157.1 154.8 157.4 150 157.8 145.3 158.3 140.8 158.8 136.4 159.4 132.1 160.1 127.9 160.9 123.9 161.8 120.1 162.7 116.5 163.7 113 164.8 109.6 165.9 106.5 167.1 103.5 168.4 100.8 169.7 98.2 171.1 95.8 172.5 93.6 174 91.7 175.6 89.9 177.2 88.3 178.8 86.9 180.5 85.7 182.2 84.7 183.9 83.9 185.7 83.2 187.5 82.7 189.3 82.3 191.1 82.1 193 82.1 194.9 82.1 196.8 82.3 198.7 82.6 200.6 83 202.5 83.5 204.4 84.1 206.4 84.7 208.3 85.4 210.3 86.2 212.3 87 214.2 87.9 216.2 88.8 218.1 89.7 220.1 90.7 222 91.7 223.9 92.7 225.9 93.8 227.8 94.9 229.7 96 231.5 97.1 233.4 98.2 235.3 99.3 237.1 100.4 238.9 101.6 240.7 102.7 242.5 103.9 244.3 105.1 246.1 106.3 247.9 107.5 249.7 108.8 251.4 110 253.2 111.3 255 112.6 256.7 113.9 258.5 115.2 260.2 116.5 262 117.8 263.7 119.2 265.5 120.5 267.2 121.9 268.9 123.3 270.7 124.7 272.4 126.1 274.2 127.5 275.9 129 277.6 130.4 279.3 131.9 281.1 133.3 282.8 134.8 284.5 136.3 286.2 137.8 288 139.3 289.7 140.8 291.4 142.3 293.1 143.8 294.8 145.4 296.5 146.9 298.2 148.5 299.9 150 301.6 151.6 303.4 153.1 305.1 154.7 306.8 156.3 308.5 157.9 310.2 159.5 311.9 161.1 313.6 162.7 315.3 164.3 317 165.9 318.8 167.5 320.5 169.1 322.2 170.7 323.9 172.4 325.6 174 327.3 175.6 329 177.3 330.8 178.9 332.5 180.6 334.2 182.2 335.9 183.8 337.6 185.5 339.3 187.2 341 188.8 342.7 190.5 344.4 192.1 346.1 193.8 347.8 195.4 349.5 197.1 351.2 198.7 352.9 200.4 354.6 202.1 356.3 203.7 358 205.4 359.7 207 361.4 208.7 363.1 210.3 364.8 212 366.5 213.6 368.2 215.3 369.9 216.9 371.5 218.6 373.2 220.2 374.9 221.8 376.5 223.5 378.2 225.1 379.8 226.7 381.5 228.4 383.1 230 384.8 231.6 386.4 233.2 388 234.8 389.7 236.4 391.3 238 392.9 239.6 394.5 241.2 396.1 242.8 397.7 244.3 399.3 245.9 400.9 247.5 402.4 249 404 250.6 405.6 252.1 407.1 253.7 408.7 255.2 410.2 256.7 411.8 258.2 413.3 259.7 414.8 261.2 416.3 262.7 417.8 264.1 419.3 265.6 420.7 267.1 422.2 268.5 423.7 269.9 425.1 271.3 426.5 272.8 428 274.1 429.4 275.5 430.8 276.9 432.2 278.3 433.5 279.6 434.9 281 436.2 282.3 437.6 283.6 438.9 284.9 440.2 286.2 441.4 287.5 442.7 288.7 443.9 289.9 445.1 291.1 446.3 292.3 447.5 293.5 448.7 294.6 449.8 295.7 451 296.9 452.1 298 453.2 299 454.3 300.1 455.4 301.2 456.4 302.2 457.5 303.3 458.5 304.3 459.6 305.3 460.6 306.3 461.6 307.3 462.6 308.3 463.5 309.2 464.5 310.2 465.4 311.1 466.3 312 467.2 312.8 468.1 313.7 468.9 314.5 469.8 315.3 470.6 316.1 471.4 316.9 472.2 317.7 472.9 318.4 473.7 319.2 474.4 319.9 475.2 320.6 475.9 321.3 476.6 322 477.3 322.7 477.9 323.4 478.6 324 479.2 324.6 479.8 325.2 480.4 325.9 481 326.4 481.6 327 482.2 327.6 482.7 328.1 483.3 328.7 483.8 329.2 484.3 329.7 484.8 330.2 485.3 330.7 485.8 331.2 486.3 331.6 486.7 332.1 487.2 332.5 487.6 332.9 488.1 333.4 488.5 333.8 488.9 334.2 489.3 334.6 489.7 335 490.1 335.3 490.5 335.7 490.8 336.1 491.2 336.4 491.5 336.8 491.9 337.1 492.2 337.5 492.6 337.8 492.9 338.1 493.2 338.4 493.5 338.7 493.8 339.1 494.1 339.4 494.4 339.7 494.7 339.9 495 340.2 495.3 340.5 495.6 340.8 495.9 341.1 496.1 341.3 496.4 341.6 496.7 341.8 496.9 342.1 497.2 342.3 497.4 342.6 497.6 342.8 497.9 343 498.1 343.3 498.3 343.5 498.5 343.7 498.8 343.9 499 344.1 499.2 344.3 499.4 344.5 499.6 344.7 499.8 344.9 499.9 345.1 500.1 345.2 500.5 345.6 500.8 345.9 501.1 346.2 501.4 346.5 501.6 346.7 501.9 347 502.1 347.2 502.4 347.5 502.6 347.7 502.8 347.9 503 348.1 503.3 348.3 503.5 348.6 503.7 348.8 503.9 349 504.1 349.2 504.3 349.4 504.5 349.6 504.7 349.7 504.9 350 505.2 350.2 505.3 350.4 505.6 350.6 505.8 350.8 506 351 506.1 351.1Z" fill="none" stroke="#111" stroke-width=".7" clip-path="url(#ccr)"/>
<path d="M45.5 227.5H244.0V449.5H45.5ZM45.5 449.5v-2M45.5 227.5v2M95.1 449.5v-2M95.1 227.5v2M144.8 449.5v-2M144.8 227.5v2M194.4 449.5v-2M194.4 227.5v2M244 449.5v-2M244 227.5v2M45.5 449.5h2M244.0 449.5h-2M45.5 400.2h2M244.0 400.2h-2M45.5 350.8h2M244.0 350.8h-2M45.5 301.5h2M244.0 301.5h-2M45.5 252.2h2M244.0 252.2h-2M45.5 227.5h2M244.0 227.5h-2" fill="none" stroke="#6e6e6e" stroke-width=".8"/>
<path d="M298.2 240.1H537.3V429.3H298.2ZM346 429.3v-2.4M346 240.1v2.4M441.7 429.3v-2.4M441.7 240.1v2.4M537.3 429.3v-2.4M537.3 240.1v2.4M298.2 429.3h2.4M537.3 429.3h-2.4M298.2 382h2.4M537.3 382h-2.4M298.2 334.7h2.4M537.3 334.7h-2.4M298.2 287.4h2.4M537.3 287.4h-2.4M298.2 240.1h2.4M537.3 240.1h-2.4" fill="none" stroke="#6e6e6e" stroke-width=".8"/>
<g font-family="'Liberation Sans',sans-serif" font-weight="bold" font-size="13.6" fill="#0d0d0d">
<g text-anchor="end"><text x="40" y="454.2">0</text><text x="40" y="404.9">0.2</text><text x="40" y="355.5">0.4</text><text x="40" y="306.2">0.6</text><text x="40" y="256.9">0.8</text><text x="40" y="232.2">0.9</text><text x="294" y="434.8" font-size="14">0.1</text><text x="294" y="387.5" font-size="14">0.2</text><text x="294" y="340.2" font-size="14">0.3</text><text x="294" y="292.9" font-size="14">0.4</text><text x="294" y="245.6" font-size="14">0.5</text></g><g text-anchor="middle"><text x="45.5" y="467.5">0</text><text x="95.1" y="467.5">0.2</text><text x="144.8" y="467.5">0.4</text><text x="194.4" y="467.5">0.6</text><text x="244" y="467.5">0.8</text><text x="346" y="448.2" font-size="14">0.4</text><text x="441.7" y="448.2" font-size="14">0.6</text><text x="537.3" y="448.2" font-size="14">0.8</text></g>
</g>
<g font-family="'Liberation Sans',sans-serif" font-weight="bold" fill="#0d0d0d" text-anchor="middle">
<text x="144.8" y="222" font-size="15.3">CIE xy Color Coordinate</text>
<text x="144.8" y="485.6" font-size="14.5">x</text>
<text x="417.7" y="467" font-size="14.5">x</text>
<text transform="translate(14.6 338.5) rotate(-90)" font-size="14.5">y</text>
<text transform="translate(269 334.8) rotate(-90)" font-size="14.5">y</text>
</g>
<g font-family="'Liberation Sans',sans-serif" font-weight="bold" font-size="11.7" fill="#000">
<text x="206.2" y="244.7">Sim.</text><text x="206.2" y="263.3">Exp.</text></g>
<circle cx="193.9" cy="240.9" r="4.1" fill="#000"/><circle cx="193.9" cy="259.5" r="3.5" fill="#fff" stroke="#000" stroke-width="1.3"/>
<path d="M153.6 367.1L168.3 363.9M163.9 362.5L168.3 363.9L164.9 367" stroke="#000" stroke-width="1.1" fill="none" stroke-linejoin="miter"/>
<path d="M159.4 377.7L183.2 359.4" stroke="#000" stroke-width="1.2" stroke-dasharray="1.2 1" fill="none"/>
<path d="M178.7 360L183.2 359.4L181.5 363.6" stroke="#000" stroke-width="1" fill="none"/>
<circle cx="159.4" cy="377.7" r="3.6" fill="#000"/>
<circle cx="186.3" cy="357" r="3.6" fill="#000"/>
<circle cx="153.6" cy="367.1" r="3" fill="#fff" stroke="#000" stroke-width="1.1"/>
<circle cx="172.6" cy="363" r="3" fill="#fff" stroke="#000" stroke-width="1.1"/>
<linearGradient id="gar" gradientUnits="userSpaceOnUse" x1="168" y1="0" x2="268" y2="0"><stop offset="0" stop-color="#979797"/><stop offset=".2" stop-color="#9e9e9e"/><stop offset=".32" stop-color="#b4b4b4"/><stop offset=".45" stop-color="#d8d8d8"/><stop offset=".55" stop-color="#e4e4e4"/><stop offset=".75" stop-color="#cacaca"/><stop offset="1" stop-color="#b8b8b8"/></linearGradient>
<path d="M168.4 349.2C168.3 348.2 167.4 345.9 167.9 343C168.4 340.1 169.7 335.1 171.2 331.7C172.7 328.3 174.1 325.7 176.9 322.7C179.7 319.7 184.3 316 188.1 313.7C191.8 311.4 195.7 309.9 199.4 308.6C203.2 307.4 207.2 306.8 210.6 306.2C214 305.6 216.8 305.3 220 305.2C223.2 305.1 226.2 305 230 305.4C233.8 305.8 239 306.7 243.1 307.8C247.2 308.9 251.7 310.6 254.4 311.8C257.1 313 258.6 314.3 259.4 314.8L266.2 315.8L267.9 329.9L249.9 318.1L254.6 317.5C252.7 316.5 246.9 313 243.1 311.4C239.3 309.8 235.5 308.8 232 308C228.5 307.2 225 306.9 222 306.8C219 306.7 216.8 306.8 214 307.3C211.2 307.8 207.8 308.7 205 309.8C202.2 310.9 199.7 311.9 197.1 313.7C194.5 315.5 191.6 318.1 189.2 320.5C186.8 322.9 184.4 325.6 182.5 328.4C180.6 331.2 178.9 334.2 178 337.4C177.1 340.6 177.1 345.8 176.9 347.5Z" fill="url(#gar)" stroke="#f4f4f4" stroke-width=".7"/>
<path d="M463.5 270.5L436.6 291.3" stroke="#1a1a1a" stroke-width="1" fill="none"/><path d="M430.6 295.9L434.7 288.8L438.5 293.7Z" fill="#1a1a1a"/>
<path d="M378.9 291.8L390.3 301" stroke="#fff" stroke-width="1" fill="none"/><path d="M396.2 305.8L388.3 303.4L392.2 298.6Z" fill="#fff"/>
<path d="M341.8 370L358.6 330.4" stroke="#fff" stroke-width="1" fill="none"/><path d="M361.6 323.4L361.5 331.6L355.8 329.2Z" fill="#fff"/>
<path d="M433.5 390.5L384.8 348.7" stroke="#1a1a1a" stroke-width="1" fill="none"/><path d="M379 343.8L386.8 346.4L382.8 351.1Z" fill="#1a1a1a"/>
<circle cx="374.3" cy="338.9" r="4.2" fill="#000"/>
<circle cx="426.2" cy="299.2" r="4.2" fill="#000"/>
<circle cx="363.1" cy="318.7" r="3.55" fill="#fff" stroke="#000" stroke-width="1.7"/>
<circle cx="399.7" cy="310.7" r="3.55" fill="#fff" stroke="#000" stroke-width="1.7"/>
<g font-family="'Liberation Sans',sans-serif" font-weight="bold" font-size="11" fill="#000">
<text x="425.4" y="253">mR-PF (with 1D PhC)</text><text x="425.4" y="266.2">(0.5676, 0.3750)</text>
<text x="302.8" y="275.6">mR-PF (with 1D PhC)</text><text x="302.8" y="289.4">(0.5122, 0.3507)</text>
<text x="301.2" y="378.8">R-PF (Ref.)</text><text x="301.2" y="391.8">(0.4358, 0.3339)</text>
<text x="426.2" y="403.3">R-PF (Ref.)</text><text x="426.2" y="416">(0.4591, 0.2911)</text>
</g></svg></div></body></html>
